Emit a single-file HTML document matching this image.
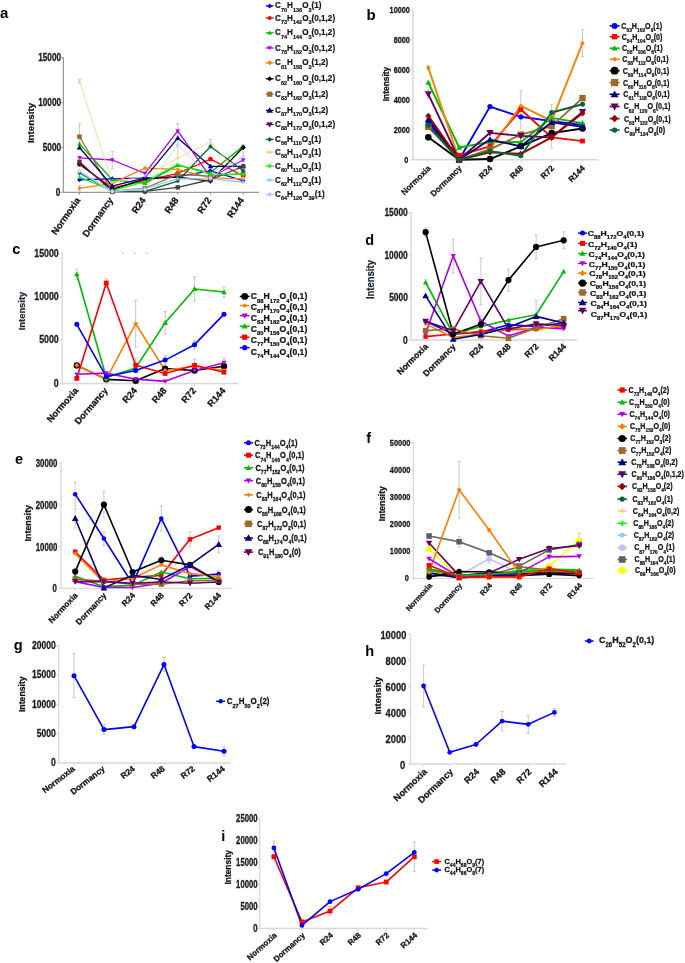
<!DOCTYPE html>
<html><head><meta charset="utf-8"><title>Figure</title>
<style>html,body{margin:0;padding:0;background:#fff;} svg{display:block;filter:blur(0.35px);} text{font-family:"Liberation Sans",Arial,sans-serif;}</style>
</head><body>
<svg width="685" height="963" viewBox="0 0 685 963">
<rect width="685" height="963" fill="#fff"/>
<text transform="translate(0.00,18.00)" font-size="15.00" font-weight="bold" fill="#000">a</text>
<path d="M63.30 57.30V192.30H259.00" fill="none" stroke="#808080" stroke-width="1.0"/>
<path d="M60.80 192.30H63.30" stroke="#808080" stroke-width="0.80"/>
<text transform="translate(60.20,195.97) scale(1.000,1.380)" font-size="8.20" font-weight="bold" fill="#1a1a1a" text-anchor="end" stroke="#1a1a1a" stroke-width="0.25" stroke-linejoin="round">0</text>
<path d="M60.80 147.47H63.30" stroke="#808080" stroke-width="0.80"/>
<text transform="translate(61.00,151.14) scale(1.000,1.380)" font-size="8.20" font-weight="bold" fill="#1a1a1a" text-anchor="end" stroke="#1a1a1a" stroke-width="0.25" stroke-linejoin="round">5000</text>
<path d="M60.80 102.63H63.30" stroke="#808080" stroke-width="0.80"/>
<text transform="translate(61.00,106.31) scale(1.000,1.380)" font-size="8.20" font-weight="bold" fill="#1a1a1a" text-anchor="end" stroke="#1a1a1a" stroke-width="0.25" stroke-linejoin="round">10000</text>
<path d="M60.80 57.80H63.30" stroke="#808080" stroke-width="0.80"/>
<text transform="translate(61.00,61.47) scale(1.000,1.380)" font-size="8.20" font-weight="bold" fill="#1a1a1a" text-anchor="end" stroke="#1a1a1a" stroke-width="0.25" stroke-linejoin="round">15000</text>
<path d="M79.50 192.30V194.80" stroke="#808080" stroke-width="0.80"/>
<text transform="translate(80.80,200.10) rotate(-55)" font-size="9.40" font-weight="bold" fill="#111" text-anchor="end" stroke="#111" stroke-width="0.25" stroke-linejoin="round">Normoxia</text>
<path d="M112.24 192.30V194.80" stroke="#808080" stroke-width="0.80"/>
<text transform="translate(113.54,200.10) rotate(-55)" font-size="9.40" font-weight="bold" fill="#111" text-anchor="end" stroke="#111" stroke-width="0.25" stroke-linejoin="round">Dormancy</text>
<path d="M144.98 192.30V194.80" stroke="#808080" stroke-width="0.80"/>
<text transform="translate(146.28,200.10) rotate(-55)" font-size="9.40" font-weight="bold" fill="#111" text-anchor="end" stroke="#111" stroke-width="0.25" stroke-linejoin="round">R24</text>
<path d="M177.72 192.30V194.80" stroke="#808080" stroke-width="0.80"/>
<text transform="translate(179.02,200.10) rotate(-55)" font-size="9.40" font-weight="bold" fill="#111" text-anchor="end" stroke="#111" stroke-width="0.25" stroke-linejoin="round">R48</text>
<path d="M210.46 192.30V194.80" stroke="#808080" stroke-width="0.80"/>
<text transform="translate(211.76,200.10) rotate(-55)" font-size="9.40" font-weight="bold" fill="#111" text-anchor="end" stroke="#111" stroke-width="0.25" stroke-linejoin="round">R72</text>
<path d="M243.20 192.30V194.80" stroke="#808080" stroke-width="0.80"/>
<text transform="translate(244.50,200.10) rotate(-55)" font-size="9.40" font-weight="bold" fill="#111" text-anchor="end" stroke="#111" stroke-width="0.25" stroke-linejoin="round">R144</text>
<text transform="translate(33.80,123.00) scale(0.850,1.000) rotate(-90)" font-size="9.80" font-weight="bold" fill="#111" text-anchor="middle" stroke="#111" stroke-width="0.25" stroke-linejoin="round">Intensity</text>
<path d="M112.24 151.05V168.99M110.64 151.05H113.84M110.64 168.99H113.84" stroke="#bbbbbb" stroke-width="0.8" fill="none"/>
<path d="M177.72 123.71V138.05M176.12 123.71H179.32M176.12 138.05H179.32" stroke="#bbbbbb" stroke-width="0.8" fill="none"/>
<path d="M79.50 185.58V190.96M77.90 185.58H81.10M77.90 190.96H81.10" stroke="#bbbbbb" stroke-width="0.8" fill="none"/>
<path d="M144.98 166.30V169.88M143.38 166.30H146.58M143.38 169.88H146.58" stroke="#bbbbbb" stroke-width="0.8" fill="none"/>
<path d="M79.50 124.15V149.26M77.90 124.15H81.10M77.90 149.26H81.10" stroke="#bbbbbb" stroke-width="0.8" fill="none"/>
<path d="M79.50 79.32V82.91M77.90 79.32H81.10M77.90 82.91H81.10" stroke="#bbbbbb" stroke-width="0.8" fill="none"/>
<path d="M210.46 139.40V144.78M208.86 139.40H212.06M208.86 144.78H212.06" stroke="#bbbbbb" stroke-width="0.8" fill="none"/>
<path d="M177.72 131.33V158.23M176.12 131.33H179.32M176.12 158.23H179.32" stroke="#bbbbbb" stroke-width="0.8" fill="none"/>
<path d="M243.20 151.95V160.92M241.60 151.95H244.80M241.60 160.92H244.80" stroke="#bbbbbb" stroke-width="0.8" fill="none"/>
<polyline points="79.50,179.75 112.24,178.85 144.98,177.95 177.72,176.61 210.46,170.78 243.20,180.64" fill="none" stroke="#0000ff" stroke-width="1.3" stroke-linejoin="round"/>
<polyline points="79.50,164.50 112.24,187.82 144.98,180.64 177.72,173.47 210.46,159.12 243.20,175.71" fill="none" stroke="#ff0000" stroke-width="1.3" stroke-linejoin="round"/>
<polyline points="79.50,143.88 112.24,179.75 144.98,183.33 177.72,165.40 210.46,172.57 243.20,146.12" fill="none" stroke="#00bb00" stroke-width="1.3" stroke-linejoin="round"/>
<polyline points="79.50,157.78 112.24,160.02 144.98,173.47 177.72,130.88 210.46,177.06 243.20,160.02" fill="none" stroke="#b000f0" stroke-width="1.3" stroke-linejoin="round"/>
<polyline points="79.50,188.27 112.24,183.33 144.98,168.09 177.72,169.44 210.46,177.95 243.20,178.85" fill="none" stroke="#ff8000" stroke-width="1.3" stroke-linejoin="round"/>
<polyline points="79.50,163.61 112.24,189.61 144.98,178.85 177.72,177.06 210.46,181.09 243.20,147.47" fill="none" stroke="#000000" stroke-width="1.3" stroke-linejoin="round"/>
<polyline points="79.50,136.71 112.24,191.40 144.98,188.27 177.72,174.37 210.46,176.16 243.20,173.47" fill="none" stroke="#9b6a2a" stroke-width="1.3" stroke-linejoin="round"/>
<polyline points="79.50,147.47 112.24,186.02 144.98,177.95 177.72,138.05 210.46,166.30 243.20,166.30" fill="none" stroke="#000080" stroke-width="1.3" stroke-linejoin="round"/>
<polyline points="79.50,161.81 112.24,191.40 144.98,191.40 177.72,187.37 210.46,179.75 243.20,166.30" fill="none" stroke="#4a3a4a" stroke-width="1.3" stroke-linejoin="round"/>
<polyline points="79.50,173.02 112.24,191.40 144.98,191.40 177.72,181.09 210.46,146.57 243.20,170.78" fill="none" stroke="#006633" stroke-width="1.3" stroke-linejoin="round"/>
<polyline points="79.50,81.11 112.24,182.44 144.98,176.16 177.72,158.23 210.46,142.09 243.20,177.95" fill="none" stroke="#ffc896" stroke-width="0.8" stroke-linejoin="round"/>
<polyline points="79.50,177.06 112.24,190.51 144.98,181.54 177.72,164.50 210.46,174.37 243.20,174.37" fill="none" stroke="#00ff00" stroke-width="1.3" stroke-linejoin="round"/>
<polyline points="79.50,171.68 112.24,191.40 144.98,188.71 177.72,178.85 210.46,178.85 243.20,181.99" fill="none" stroke="#90c8ff" stroke-width="1.3" stroke-linejoin="round"/>
<polyline points="79.50,170.78 112.24,191.40 144.98,189.61 177.72,144.78 210.46,177.95 243.20,156.43" fill="none" stroke="#d0d0f6" stroke-width="0.9" stroke-linejoin="round"/>
<polygon points="79.50,177.25 82.00,179.75 79.50,182.25 77.00,179.75" fill="#0000ff"/>
<polygon points="112.24,176.35 114.74,178.85 112.24,181.35 109.74,178.85" fill="#0000ff"/>
<polygon points="144.98,175.45 147.48,177.95 144.98,180.45 142.48,177.95" fill="#0000ff"/>
<polygon points="177.72,174.11 180.22,176.61 177.72,179.11 175.22,176.61" fill="#0000ff"/>
<polygon points="210.46,168.28 212.96,170.78 210.46,173.28 207.96,170.78" fill="#0000ff"/>
<polygon points="243.20,178.14 245.70,180.64 243.20,183.14 240.70,180.64" fill="#0000ff"/>
<circle cx="79.50" cy="164.50" r="2.40" fill="#ff0000"/>
<circle cx="112.24" cy="187.82" r="2.40" fill="#ff0000"/>
<circle cx="144.98" cy="180.64" r="2.40" fill="#ff0000"/>
<circle cx="177.72" cy="173.47" r="2.40" fill="#ff0000"/>
<circle cx="210.46" cy="159.12" r="2.40" fill="#ff0000"/>
<circle cx="243.20" cy="175.71" r="2.40" fill="#ff0000"/>
<polygon points="79.50,141.58 81.80,145.60 77.20,145.60" fill="#00bb00"/>
<polygon points="112.24,177.45 114.54,181.47 109.94,181.47" fill="#00bb00"/>
<polygon points="144.98,181.03 147.28,185.06 142.68,185.06" fill="#00bb00"/>
<polygon points="177.72,163.10 180.02,167.12 175.42,167.12" fill="#00bb00"/>
<polygon points="210.46,170.27 212.76,174.30 208.16,174.30" fill="#00bb00"/>
<polygon points="243.20,143.82 245.50,147.85 240.90,147.85" fill="#00bb00"/>
<polygon points="79.50,160.08 81.80,156.05 77.20,156.05" fill="#b000f0"/>
<polygon points="112.24,162.32 114.54,158.30 109.94,158.30" fill="#b000f0"/>
<polygon points="144.98,175.77 147.28,171.75 142.68,171.75" fill="#b000f0"/>
<polygon points="177.72,133.18 180.02,129.15 175.42,129.15" fill="#b000f0"/>
<polygon points="210.46,179.36 212.76,175.33 208.16,175.33" fill="#b000f0"/>
<polygon points="243.20,162.32 245.50,158.30 240.90,158.30" fill="#b000f0"/>
<polygon points="79.50,186.27 81.50,188.27 79.50,190.27 77.50,188.27" fill="#ff8000"/>
<polygon points="112.24,181.33 114.24,183.33 112.24,185.33 110.24,183.33" fill="#ff8000"/>
<polygon points="144.98,166.09 146.98,168.09 144.98,170.09 142.98,168.09" fill="#ff8000"/>
<polygon points="177.72,167.44 179.72,169.44 177.72,171.44 175.72,169.44" fill="#ff8000"/>
<polygon points="210.46,175.95 212.46,177.95 210.46,179.95 208.46,177.95" fill="#ff8000"/>
<polygon points="243.20,176.85 245.20,178.85 243.20,180.85 241.20,178.85" fill="#ff8000"/>
<polygon points="79.50,160.86 82.25,163.61 79.50,166.36 76.75,163.61" fill="#000000"/>
<polygon points="112.24,186.86 114.99,189.61 112.24,192.36 109.49,189.61" fill="#000000"/>
<polygon points="144.98,176.10 147.73,178.85 144.98,181.60 142.23,178.85" fill="#000000"/>
<polygon points="177.72,174.31 180.47,177.06 177.72,179.81 174.97,177.06" fill="#000000"/>
<polygon points="210.46,178.34 213.21,181.09 210.46,183.84 207.71,181.09" fill="#000000"/>
<polygon points="243.20,144.72 245.95,147.47 243.20,150.22 240.45,147.47" fill="#000000"/>
<rect x="77.20" y="134.41" width="4.60" height="4.60" fill="#9b6a2a"/>
<rect x="109.94" y="189.10" width="4.60" height="4.60" fill="#9b6a2a"/>
<rect x="142.68" y="185.97" width="4.60" height="4.60" fill="#9b6a2a"/>
<rect x="175.42" y="172.07" width="4.60" height="4.60" fill="#9b6a2a"/>
<rect x="208.16" y="173.86" width="4.60" height="4.60" fill="#9b6a2a"/>
<rect x="240.90" y="171.17" width="4.60" height="4.60" fill="#9b6a2a"/>
<polygon points="79.50,144.71 82.26,149.54 76.74,149.54" fill="#000080"/>
<polygon points="112.24,183.26 115.00,188.09 109.48,188.09" fill="#000080"/>
<polygon points="144.98,175.19 147.74,180.02 142.22,180.02" fill="#000080"/>
<polygon points="177.72,135.29 180.48,140.12 174.96,140.12" fill="#000080"/>
<polygon points="210.46,163.54 213.22,168.37 207.70,168.37" fill="#000080"/>
<polygon points="243.20,163.54 245.96,168.37 240.44,168.37" fill="#000080"/>
<rect x="77.30" y="159.61" width="4.40" height="4.40" fill="#4a3a4a"/>
<rect x="110.04" y="189.20" width="4.40" height="4.40" fill="#4a3a4a"/>
<rect x="142.78" y="189.20" width="4.40" height="4.40" fill="#4a3a4a"/>
<rect x="175.52" y="185.17" width="4.40" height="4.40" fill="#4a3a4a"/>
<rect x="208.26" y="177.55" width="4.40" height="4.40" fill="#4a3a4a"/>
<rect x="241.00" y="164.10" width="4.40" height="4.40" fill="#4a3a4a"/>
<polygon points="79.50,170.77 81.75,173.02 79.50,175.27 77.25,173.02" fill="#006633"/>
<polygon points="112.24,189.15 114.49,191.40 112.24,193.65 109.99,191.40" fill="#006633"/>
<polygon points="144.98,189.15 147.23,191.40 144.98,193.65 142.73,191.40" fill="#006633"/>
<polygon points="177.72,178.84 179.97,181.09 177.72,183.34 175.47,181.09" fill="#006633"/>
<polygon points="210.46,144.32 212.71,146.57 210.46,148.82 208.21,146.57" fill="#006633"/>
<polygon points="243.20,168.53 245.45,170.78 243.20,173.03 240.95,170.78" fill="#006633"/>
<path d="M78.20 81.11H80.80M79.50 79.81V82.41" stroke="#ffc896" stroke-width="1.00"/>
<path d="M110.94 182.44H113.54M112.24 181.14V183.74" stroke="#ffc896" stroke-width="1.00"/>
<path d="M143.68 176.16H146.28M144.98 174.86V177.46" stroke="#ffc896" stroke-width="1.00"/>
<path d="M176.42 158.23H179.02M177.72 156.93V159.53" stroke="#ffc896" stroke-width="1.00"/>
<path d="M209.16 142.09H211.76M210.46 140.79V143.39" stroke="#ffc896" stroke-width="1.00"/>
<path d="M241.90 177.95H244.50M243.20 176.65V179.25" stroke="#ffc896" stroke-width="1.00"/>
<path d="M77.70 177.06H81.30M79.50 175.26V178.86" stroke="#00ff00" stroke-width="1.08"/>
<path d="M110.44 190.51H114.04M112.24 188.71V192.31" stroke="#00ff00" stroke-width="1.08"/>
<path d="M143.18 181.54H146.78M144.98 179.74V183.34" stroke="#00ff00" stroke-width="1.08"/>
<path d="M175.92 164.50H179.52M177.72 162.70V166.30" stroke="#00ff00" stroke-width="1.08"/>
<path d="M208.66 174.37H212.26M210.46 172.57V176.17" stroke="#00ff00" stroke-width="1.08"/>
<path d="M241.40 174.37H245.00M243.20 172.57V176.17" stroke="#00ff00" stroke-width="1.08"/>
<path d="M77.70 171.68H81.30M79.50 169.88V173.48M78.15 170.33L80.85 173.03M78.15 173.03L80.85 170.33" stroke="#90c8ff" stroke-width="0.90"/>
<path d="M110.44 191.40H114.04M112.24 189.60V193.20M110.89 190.05L113.59 192.75M110.89 192.75L113.59 190.05" stroke="#90c8ff" stroke-width="0.90"/>
<path d="M143.18 188.71H146.78M144.98 186.91V190.51M143.63 187.36L146.33 190.06M143.63 190.06L146.33 187.36" stroke="#90c8ff" stroke-width="0.90"/>
<path d="M175.92 178.85H179.52M177.72 177.05V180.65M176.37 177.50L179.07 180.20M176.37 180.20L179.07 177.50" stroke="#90c8ff" stroke-width="0.90"/>
<path d="M208.66 178.85H212.26M210.46 177.05V180.65M209.11 177.50L211.81 180.20M209.11 180.20L211.81 177.50" stroke="#90c8ff" stroke-width="0.90"/>
<path d="M241.40 181.99H245.00M243.20 180.19V183.79M241.85 180.64L244.55 183.34M241.85 183.34L244.55 180.64" stroke="#90c8ff" stroke-width="0.90"/>
<polygon points="79.50,168.53 81.75,170.78 79.50,173.03 77.25,170.78" fill="#d0d0f6"/>
<polygon points="112.24,189.15 114.49,191.40 112.24,193.65 109.99,191.40" fill="#d0d0f6"/>
<polygon points="144.98,187.36 147.23,189.61 144.98,191.86 142.73,189.61" fill="#d0d0f6"/>
<polygon points="177.72,142.53 179.97,144.78 177.72,147.03 175.47,144.78" fill="#d0d0f6"/>
<polygon points="210.46,175.70 212.71,177.95 210.46,180.20 208.21,177.95" fill="#d0d0f6"/>
<polygon points="243.20,154.18 245.45,156.43 243.20,158.68 240.95,156.43" fill="#d0d0f6"/>
<path d="M265.80 5.90H273.60" stroke="#0000ff" stroke-width="1.3"/>
<polygon points="269.70,3.40 272.20,5.90 269.70,8.40 267.20,5.90" fill="#0000ff"/>
<text transform="translate(275.00,8.40) scale(0.948,1.000)" font-size="8.60" font-weight="bold" fill="#111" stroke="#111" stroke-width="0.2" stroke-linejoin="round"><tspan>C</tspan><tspan font-size="5.85" dy="3.27">70</tspan><tspan dy="-3.27">H</tspan><tspan font-size="5.85" dy="3.27">136</tspan><tspan dy="-3.27">O</tspan><tspan font-size="5.85" dy="3.27">3</tspan><tspan dy="-3.27">(1)</tspan></text>
<path d="M265.80 18.00H273.60" stroke="#ff0000" stroke-width="1.3"/>
<circle cx="269.70" cy="18.00" r="2.00" fill="#ff0000"/>
<text transform="translate(275.00,20.50) scale(0.948,1.000)" font-size="8.60" font-weight="bold" fill="#111" stroke="#111" stroke-width="0.2" stroke-linejoin="round"><tspan>C</tspan><tspan font-size="5.85" dy="3.27">73</tspan><tspan dy="-3.27">H</tspan><tspan font-size="5.85" dy="3.27">142</tspan><tspan dy="-3.27">O</tspan><tspan font-size="5.85" dy="3.27">3</tspan><tspan dy="-3.27">(0,1,2)</tspan></text>
<path d="M265.80 32.80H273.60" stroke="#00bb00" stroke-width="1.3"/>
<polygon points="269.70,30.50 272.00,34.52 267.40,34.52" fill="#00bb00"/>
<text transform="translate(275.00,35.30) scale(0.948,1.000)" font-size="8.60" font-weight="bold" fill="#111" stroke="#111" stroke-width="0.2" stroke-linejoin="round"><tspan>C</tspan><tspan font-size="5.85" dy="3.27">74</tspan><tspan dy="-3.27">H</tspan><tspan font-size="5.85" dy="3.27">144</tspan><tspan dy="-3.27">O</tspan><tspan font-size="5.85" dy="3.27">3</tspan><tspan dy="-3.27">(0,1,2)</tspan></text>
<path d="M265.80 48.00H273.60" stroke="#b000f0" stroke-width="1.3"/>
<polygon points="269.70,50.30 272.00,46.27 267.40,46.27" fill="#b000f0"/>
<text transform="translate(275.00,50.50) scale(0.948,1.000)" font-size="8.60" font-weight="bold" fill="#111" stroke="#111" stroke-width="0.2" stroke-linejoin="round"><tspan>C</tspan><tspan font-size="5.85" dy="3.27">78</tspan><tspan dy="-3.27">H</tspan><tspan font-size="5.85" dy="3.27">152</tspan><tspan dy="-3.27">O</tspan><tspan font-size="5.85" dy="3.27">3</tspan><tspan dy="-3.27">(0,1,2)</tspan></text>
<path d="M265.80 62.80H273.60" stroke="#ff8000" stroke-width="1.3"/>
<polygon points="269.70,60.30 272.20,62.80 269.70,65.30 267.20,62.80" fill="#ff8000"/>
<text transform="translate(275.00,65.30) scale(0.948,1.000)" font-size="8.60" font-weight="bold" fill="#111" stroke="#111" stroke-width="0.2" stroke-linejoin="round"><tspan>C</tspan><tspan font-size="5.85" dy="3.27">81</tspan><tspan dy="-3.27">H</tspan><tspan font-size="5.85" dy="3.27">158</tspan><tspan dy="-3.27">O</tspan><tspan font-size="5.85" dy="3.27">3</tspan><tspan dy="-3.27">(1,2)</tspan></text>
<path d="M265.80 78.80H273.60" stroke="#000000" stroke-width="1.3"/>
<polygon points="269.70,76.30 272.20,78.80 269.70,81.30 267.20,78.80" fill="#000000"/>
<text transform="translate(275.00,81.30) scale(0.948,1.000)" font-size="8.60" font-weight="bold" fill="#111" stroke="#111" stroke-width="0.2" stroke-linejoin="round"><tspan>C</tspan><tspan font-size="5.85" dy="3.27">82</tspan><tspan dy="-3.27">H</tspan><tspan font-size="5.85" dy="3.27">160</tspan><tspan dy="-3.27">O</tspan><tspan font-size="5.85" dy="3.27">3</tspan><tspan dy="-3.27">(0,1,2)</tspan></text>
<path d="M265.80 94.20H273.60" stroke="#9b6a2a" stroke-width="1.3"/>
<rect x="267.10" y="91.60" width="5.20" height="5.20" fill="#9b6a2a"/>
<text transform="translate(275.00,96.70) scale(0.948,1.000)" font-size="8.60" font-weight="bold" fill="#111" stroke="#111" stroke-width="0.2" stroke-linejoin="round"><tspan>C</tspan><tspan font-size="5.85" dy="3.27">83</tspan><tspan dy="-3.27">H</tspan><tspan font-size="5.85" dy="3.27">162</tspan><tspan dy="-3.27">O</tspan><tspan font-size="5.85" dy="3.27">3</tspan><tspan dy="-3.27">(1,2)</tspan></text>
<path d="M265.80 110.40H273.60" stroke="#000080" stroke-width="1.3"/>
<polygon points="269.70,107.18 272.92,112.82 266.48,112.82" fill="#000080"/>
<text transform="translate(275.00,112.90) scale(0.948,1.000)" font-size="8.60" font-weight="bold" fill="#111" stroke="#111" stroke-width="0.2" stroke-linejoin="round"><tspan>C</tspan><tspan font-size="5.85" dy="3.27">87</tspan><tspan dy="-3.27">H</tspan><tspan font-size="5.85" dy="3.27">170</tspan><tspan dy="-3.27">O</tspan><tspan font-size="5.85" dy="3.27">3</tspan><tspan dy="-3.27">(1,2)</tspan></text>
<path d="M265.80 124.50H273.60" stroke="#600060" stroke-width="1.3"/>
<polygon points="269.70,127.61 272.81,122.17 266.59,122.17" fill="#600060"/>
<text transform="translate(275.00,127.00) scale(0.948,1.000)" font-size="8.60" font-weight="bold" fill="#111" stroke="#111" stroke-width="0.2" stroke-linejoin="round"><tspan>C</tspan><tspan font-size="5.85" dy="3.27">88</tspan><tspan dy="-3.27">H</tspan><tspan font-size="5.85" dy="3.27">172</tspan><tspan dy="-3.27">O</tspan><tspan font-size="5.85" dy="3.27">3</tspan><tspan dy="-3.27">(0,1,2)</tspan></text>
<path d="M265.80 139.40H273.60" stroke="#006633" stroke-width="1.3"/>
<polygon points="269.70,136.90 272.20,139.40 269.70,141.90 267.20,139.40" fill="#006633"/>
<text transform="translate(275.00,141.90) scale(0.948,1.000)" font-size="8.60" font-weight="bold" fill="#111" stroke="#111" stroke-width="0.2" stroke-linejoin="round"><tspan>C</tspan><tspan font-size="5.85" dy="3.27">56</tspan><tspan dy="-3.27">H</tspan><tspan font-size="5.85" dy="3.27">110</tspan><tspan dy="-3.27">O</tspan><tspan font-size="5.85" dy="3.27">3</tspan><tspan dy="-3.27">(1)</tspan></text>
<path d="M265.80 152.20H273.60" stroke="#ffc896" stroke-width="1.3"/>
<path d="M267.70 152.20H271.70M269.70 150.20V154.20" stroke="#ffc896" stroke-width="1.20"/>
<text transform="translate(275.00,154.70) scale(0.948,1.000)" font-size="8.60" font-weight="bold" fill="#111" stroke="#111" stroke-width="0.2" stroke-linejoin="round"><tspan>C</tspan><tspan font-size="5.85" dy="3.27">58</tspan><tspan dy="-3.27">H</tspan><tspan font-size="5.85" dy="3.27">114</tspan><tspan dy="-3.27">O</tspan><tspan font-size="5.85" dy="3.27">3</tspan><tspan dy="-3.27">(1)</tspan></text>
<path d="M265.80 166.10H273.60" stroke="#00ff00" stroke-width="1.3"/>
<path d="M267.70 166.10H271.70M269.70 164.10V168.10" stroke="#00ff00" stroke-width="1.20"/>
<text transform="translate(275.00,168.60) scale(0.948,1.000)" font-size="8.60" font-weight="bold" fill="#111" stroke="#111" stroke-width="0.2" stroke-linejoin="round"><tspan>C</tspan><tspan font-size="5.85" dy="3.27">60</tspan><tspan dy="-3.27">H</tspan><tspan font-size="5.85" dy="3.27">118</tspan><tspan dy="-3.27">O</tspan><tspan font-size="5.85" dy="3.27">3</tspan><tspan dy="-3.27">(1)</tspan></text>
<path d="M265.80 180.10H273.60" stroke="#90c8ff" stroke-width="1.3"/>
<path d="M267.70 180.10H271.70M269.70 178.10V182.10M268.20 178.60L271.20 181.60M268.20 181.60L271.20 178.60" stroke="#90c8ff" stroke-width="0.90"/>
<text transform="translate(275.00,182.60) scale(0.948,1.000)" font-size="8.60" font-weight="bold" fill="#111" stroke="#111" stroke-width="0.2" stroke-linejoin="round"><tspan>C</tspan><tspan font-size="5.85" dy="3.27">62</tspan><tspan dy="-3.27">H</tspan><tspan font-size="5.85" dy="3.27">112</tspan><tspan dy="-3.27">O</tspan><tspan font-size="5.85" dy="3.27">3</tspan><tspan dy="-3.27">(1)</tspan></text>
<path d="M265.80 194.40H273.60" stroke="#c0c0ff" stroke-width="1.3"/>
<polygon points="269.70,191.90 272.20,194.40 269.70,196.90 267.20,194.40" fill="#c0c0ff"/>
<text transform="translate(275.00,196.90) scale(0.948,1.000)" font-size="8.60" font-weight="bold" fill="#111" stroke="#111" stroke-width="0.2" stroke-linejoin="round"><tspan>C</tspan><tspan font-size="5.85" dy="3.27">64</tspan><tspan dy="-3.27">H</tspan><tspan font-size="5.85" dy="3.27">126</tspan><tspan dy="-3.27">O</tspan><tspan font-size="5.85" dy="3.27">39</tspan><tspan dy="-3.27">(1)</tspan></text>
<text transform="translate(366.50,20.00)" font-size="15.00" font-weight="bold" fill="#000">b</text>
<path d="M413.00 9.50V159.80H598.50" fill="none" stroke="#d8d8d8" stroke-width="1.4"/>
<path d="M410.50 159.80H413.00" stroke="#d8d8d8" stroke-width="1.12"/>
<text transform="translate(408.40,162.82) scale(1.000,1.300)" font-size="7.30" font-weight="bold" fill="#1a1a1a" text-anchor="end" stroke="#1a1a1a" stroke-width="0.25" stroke-linejoin="round">0</text>
<path d="M410.50 129.84H413.00" stroke="#d8d8d8" stroke-width="1.12"/>
<text transform="translate(409.90,132.86) scale(1.000,1.300)" font-size="7.30" font-weight="bold" fill="#1a1a1a" text-anchor="end" stroke="#1a1a1a" stroke-width="0.25" stroke-linejoin="round">2000</text>
<path d="M410.50 99.88H413.00" stroke="#d8d8d8" stroke-width="1.12"/>
<text transform="translate(409.90,102.90) scale(1.000,1.300)" font-size="7.30" font-weight="bold" fill="#1a1a1a" text-anchor="end" stroke="#1a1a1a" stroke-width="0.25" stroke-linejoin="round">4000</text>
<path d="M410.50 69.92H413.00" stroke="#d8d8d8" stroke-width="1.12"/>
<text transform="translate(409.90,72.94) scale(1.000,1.300)" font-size="7.30" font-weight="bold" fill="#1a1a1a" text-anchor="end" stroke="#1a1a1a" stroke-width="0.25" stroke-linejoin="round">6000</text>
<path d="M410.50 39.96H413.00" stroke="#d8d8d8" stroke-width="1.12"/>
<text transform="translate(409.90,42.98) scale(1.000,1.300)" font-size="7.30" font-weight="bold" fill="#1a1a1a" text-anchor="end" stroke="#1a1a1a" stroke-width="0.25" stroke-linejoin="round">8000</text>
<path d="M410.50 10.00H413.00" stroke="#d8d8d8" stroke-width="1.12"/>
<text transform="translate(409.90,13.02) scale(1.000,1.300)" font-size="7.30" font-weight="bold" fill="#1a1a1a" text-anchor="end" stroke="#1a1a1a" stroke-width="0.25" stroke-linejoin="round">10000</text>
<path d="M428.30 159.80V162.30" stroke="#d8d8d8" stroke-width="1.12"/>
<text transform="translate(431.30,168.80) rotate(-45)" font-size="8.20" font-weight="bold" fill="#111" text-anchor="end" stroke="#111" stroke-width="0.25" stroke-linejoin="round">Normoxia</text>
<path d="M459.14 159.80V162.30" stroke="#d8d8d8" stroke-width="1.12"/>
<text transform="translate(462.14,168.80) rotate(-45)" font-size="8.20" font-weight="bold" fill="#111" text-anchor="end" stroke="#111" stroke-width="0.25" stroke-linejoin="round">Dormancy</text>
<path d="M489.98 159.80V162.30" stroke="#d8d8d8" stroke-width="1.12"/>
<text transform="translate(492.98,168.80) rotate(-45)" font-size="8.20" font-weight="bold" fill="#111" text-anchor="end" stroke="#111" stroke-width="0.25" stroke-linejoin="round">R24</text>
<path d="M520.82 159.80V162.30" stroke="#d8d8d8" stroke-width="1.12"/>
<text transform="translate(523.82,168.80) rotate(-45)" font-size="8.20" font-weight="bold" fill="#111" text-anchor="end" stroke="#111" stroke-width="0.25" stroke-linejoin="round">R48</text>
<path d="M551.66 159.80V162.30" stroke="#d8d8d8" stroke-width="1.12"/>
<text transform="translate(554.66,168.80) rotate(-45)" font-size="8.20" font-weight="bold" fill="#111" text-anchor="end" stroke="#111" stroke-width="0.25" stroke-linejoin="round">R72</text>
<path d="M582.50 159.80V162.30" stroke="#d8d8d8" stroke-width="1.12"/>
<text transform="translate(585.50,168.80) rotate(-45)" font-size="8.20" font-weight="bold" fill="#111" text-anchor="end" stroke="#111" stroke-width="0.25" stroke-linejoin="round">R144</text>
<text transform="translate(389.00,84.00) rotate(-90)" font-size="8.40" font-weight="bold" fill="#111" text-anchor="middle" stroke="#111" stroke-width="0.25" stroke-linejoin="round">Intensity</text>
<path d="M520.82 90.74V128.19M519.22 90.74H522.42M519.22 128.19H522.42" stroke="#bbbbbb" stroke-width="0.8" fill="none"/>
<path d="M428.30 65.43V69.92M426.70 65.43H429.90M426.70 69.92H429.90" stroke="#bbbbbb" stroke-width="0.8" fill="none"/>
<path d="M582.50 29.62V56.59M580.90 29.62H584.10M580.90 56.59H584.10" stroke="#bbbbbb" stroke-width="0.8" fill="none"/>
<path d="M551.66 104.37V147.82M550.06 104.37H553.26M550.06 147.82H553.26" stroke="#bbbbbb" stroke-width="0.8" fill="none"/>
<path d="M428.30 89.54V98.53M426.70 89.54H429.90M426.70 98.53H429.90" stroke="#bbbbbb" stroke-width="0.8" fill="none"/>
<polyline points="428.30,122.35 459.14,159.80 489.98,106.62 520.82,116.81 551.66,121.15 582.50,125.05" fill="none" stroke="#0000ff" stroke-width="1.9" stroke-linejoin="round"/>
<polyline points="428.30,126.99 459.14,155.31 489.98,146.32 520.82,109.47 551.66,137.33 582.50,141.08" fill="none" stroke="#ff0000" stroke-width="1.9" stroke-linejoin="round"/>
<polyline points="428.30,82.50 459.14,147.52 489.98,141.82 520.82,142.27 551.66,117.86 582.50,123.10" fill="none" stroke="#00bb00" stroke-width="1.9" stroke-linejoin="round"/>
<polyline points="428.30,67.67 459.14,159.80 489.98,149.31 520.82,105.87 551.66,120.85 582.50,43.11" fill="none" stroke="#ff8000" stroke-width="1.9" stroke-linejoin="round"/>
<polyline points="428.30,137.33 459.14,159.80 489.98,159.05 520.82,146.32 551.66,133.14 582.50,128.49" fill="none" stroke="#000000" stroke-width="1.9" stroke-linejoin="round"/>
<polyline points="428.30,126.84 459.14,159.80 489.98,149.31 520.82,134.63 551.66,126.10 582.50,98.08" fill="none" stroke="#9b6a2a" stroke-width="1.9" stroke-linejoin="round"/>
<polyline points="428.30,119.35 459.14,159.80 489.98,139.58 520.82,146.32 551.66,122.35 582.50,126.84" fill="none" stroke="#000080" stroke-width="1.9" stroke-linejoin="round"/>
<polyline points="428.30,94.04 459.14,159.80 489.98,132.84 520.82,135.83 551.66,137.33 582.50,111.86" fill="none" stroke="#600060" stroke-width="1.9" stroke-linejoin="round"/>
<polyline points="428.30,115.91 459.14,159.80 489.98,152.31 520.82,153.81 551.66,137.33 582.50,113.36" fill="none" stroke="#990000" stroke-width="1.9" stroke-linejoin="round"/>
<polyline points="428.30,125.35 459.14,159.80 489.98,151.11 520.82,155.76 551.66,112.46 582.50,104.22" fill="none" stroke="#006633" stroke-width="1.9" stroke-linejoin="round"/>
<circle cx="428.30" cy="122.35" r="2.60" fill="#0000ff"/>
<circle cx="459.14" cy="159.80" r="2.60" fill="#0000ff"/>
<circle cx="489.98" cy="106.62" r="2.60" fill="#0000ff"/>
<circle cx="520.82" cy="116.81" r="2.60" fill="#0000ff"/>
<circle cx="551.66" cy="121.15" r="2.60" fill="#0000ff"/>
<circle cx="582.50" cy="125.05" r="2.60" fill="#0000ff"/>
<rect x="425.90" y="124.59" width="4.80" height="4.80" fill="#ff0000"/>
<rect x="456.74" y="152.91" width="4.80" height="4.80" fill="#ff0000"/>
<rect x="487.58" y="143.92" width="4.80" height="4.80" fill="#ff0000"/>
<rect x="518.42" y="107.07" width="4.80" height="4.80" fill="#ff0000"/>
<rect x="549.26" y="134.93" width="4.80" height="4.80" fill="#ff0000"/>
<rect x="580.10" y="138.68" width="4.80" height="4.80" fill="#ff0000"/>
<polygon points="428.30,79.51 431.29,84.75 425.31,84.75" fill="#00bb00"/>
<polygon points="459.14,144.53 462.13,149.76 456.15,149.76" fill="#00bb00"/>
<polygon points="489.98,138.83 492.97,144.07 486.99,144.07" fill="#00bb00"/>
<polygon points="520.82,139.28 523.81,144.52 517.83,144.52" fill="#00bb00"/>
<polygon points="551.66,114.87 554.65,120.10 548.67,120.10" fill="#00bb00"/>
<polygon points="582.50,120.11 585.49,125.34 579.51,125.34" fill="#00bb00"/>
<polygon points="428.30,65.30 430.68,67.67 428.30,70.05 425.93,67.67" fill="#ff8000"/>
<polygon points="459.14,157.43 461.51,159.80 459.14,162.18 456.76,159.80" fill="#ff8000"/>
<polygon points="489.98,146.94 492.36,149.31 489.98,151.69 487.61,149.31" fill="#ff8000"/>
<polygon points="520.82,103.50 523.20,105.87 520.82,108.25 518.45,105.87" fill="#ff8000"/>
<polygon points="551.66,118.48 554.03,120.85 551.66,123.23 549.28,120.85" fill="#ff8000"/>
<polygon points="582.50,40.73 584.88,43.11 582.50,45.48 580.12,43.11" fill="#ff8000"/>
<circle cx="428.30" cy="137.33" r="3.30" fill="#000000"/>
<circle cx="459.14" cy="159.80" r="3.30" fill="#000000"/>
<circle cx="489.98" cy="159.05" r="3.30" fill="#000000"/>
<circle cx="520.82" cy="146.32" r="3.30" fill="#000000"/>
<circle cx="551.66" cy="133.14" r="3.30" fill="#000000"/>
<circle cx="582.50" cy="128.49" r="3.30" fill="#000000"/>
<rect x="425.10" y="123.64" width="6.40" height="6.40" fill="#9b6a2a"/>
<rect x="455.94" y="156.60" width="6.40" height="6.40" fill="#9b6a2a"/>
<rect x="486.78" y="146.11" width="6.40" height="6.40" fill="#9b6a2a"/>
<rect x="517.62" y="131.43" width="6.40" height="6.40" fill="#9b6a2a"/>
<rect x="548.46" y="122.90" width="6.40" height="6.40" fill="#9b6a2a"/>
<rect x="579.30" y="94.88" width="6.40" height="6.40" fill="#9b6a2a"/>
<polygon points="428.30,115.90 431.75,121.94 424.85,121.94" fill="#000080"/>
<polygon points="459.14,156.35 462.59,162.39 455.69,162.39" fill="#000080"/>
<polygon points="489.98,136.13 493.43,142.16 486.53,142.16" fill="#000080"/>
<polygon points="520.82,142.87 524.27,148.91 517.37,148.91" fill="#000080"/>
<polygon points="551.66,118.90 555.11,124.94 548.21,124.94" fill="#000080"/>
<polygon points="582.50,123.39 585.95,129.43 579.05,129.43" fill="#000080"/>
<polygon points="428.30,97.72 431.98,91.28 424.62,91.28" fill="#600060"/>
<polygon points="459.14,163.48 462.82,157.04 455.46,157.04" fill="#600060"/>
<polygon points="489.98,136.52 493.66,130.08 486.30,130.08" fill="#600060"/>
<polygon points="520.82,139.51 524.50,133.07 517.14,133.07" fill="#600060"/>
<polygon points="551.66,141.01 555.34,134.57 547.98,134.57" fill="#600060"/>
<polygon points="582.50,115.54 586.18,109.10 578.82,109.10" fill="#600060"/>
<polygon points="428.30,112.78 431.43,115.91 428.30,119.03 425.18,115.91" fill="#990000"/>
<polygon points="459.14,156.68 462.26,159.80 459.14,162.93 456.01,159.80" fill="#990000"/>
<polygon points="489.98,149.19 493.11,152.31 489.98,155.44 486.86,152.31" fill="#990000"/>
<polygon points="520.82,150.68 523.95,153.81 520.82,156.93 517.70,153.81" fill="#990000"/>
<polygon points="551.66,134.21 554.78,137.33 551.66,140.46 548.53,137.33" fill="#990000"/>
<polygon points="582.50,110.24 585.62,113.36 582.50,116.49 579.38,113.36" fill="#990000"/>
<circle cx="428.30" cy="125.35" r="2.50" fill="#006633"/>
<circle cx="459.14" cy="159.80" r="2.50" fill="#006633"/>
<circle cx="489.98" cy="151.11" r="2.50" fill="#006633"/>
<circle cx="520.82" cy="155.76" r="2.50" fill="#006633"/>
<circle cx="551.66" cy="112.46" r="2.50" fill="#006633"/>
<circle cx="582.50" cy="104.22" r="2.50" fill="#006633"/>
<path d="M609.60 25.90H619.60" stroke="#0000ff" stroke-width="1.6"/>
<circle cx="614.60" cy="25.90" r="3.00" fill="#0000ff"/>
<text transform="translate(621.30,28.80) scale(0.830,1.000)" font-size="8.60" font-weight="bold" fill="#111" stroke="#111" stroke-width="0.25" stroke-linejoin="round"><tspan>C</tspan><tspan font-size="5.85" dy="3.27">53</tspan><tspan dy="-3.27">H</tspan><tspan font-size="5.85" dy="3.27">102</tspan><tspan dy="-3.27">O</tspan><tspan font-size="5.85" dy="3.27">6</tspan><tspan dy="-3.27">(1)</tspan></text>
<path d="M609.60 36.70H619.60" stroke="#ff0000" stroke-width="1.6"/>
<rect x="611.90" y="34.00" width="5.40" height="5.40" fill="#ff0000"/>
<text transform="translate(621.63,39.60) scale(0.830,1.000)" font-size="8.60" font-weight="bold" fill="#111" stroke="#111" stroke-width="0.25" stroke-linejoin="round"><tspan>C</tspan><tspan font-size="5.85" dy="3.27">54</tspan><tspan dy="-3.27">H</tspan><tspan font-size="5.85" dy="3.27">104</tspan><tspan dy="-3.27">O</tspan><tspan font-size="5.85" dy="3.27">6</tspan><tspan dy="-3.27">(0)</tspan></text>
<path d="M609.60 48.20H619.60" stroke="#00bb00" stroke-width="1.6"/>
<polygon points="614.60,45.21 617.59,50.44 611.61,50.44" fill="#00bb00"/>
<text transform="translate(621.97,51.10) scale(0.830,1.000)" font-size="8.60" font-weight="bold" fill="#111" stroke="#111" stroke-width="0.25" stroke-linejoin="round"><tspan>C</tspan><tspan font-size="5.85" dy="3.27">55</tspan><tspan dy="-3.27">H</tspan><tspan font-size="5.85" dy="3.27">106</tspan><tspan dy="-3.27">O</tspan><tspan font-size="5.85" dy="3.27">6</tspan><tspan dy="-3.27">(1)</tspan></text>
<path d="M609.60 59.30H619.60" stroke="#ff8000" stroke-width="1.6"/>
<polygon points="614.60,56.80 617.10,59.30 614.60,61.80 612.10,59.30" fill="#ff8000"/>
<text transform="translate(622.30,62.20) scale(0.830,1.000)" font-size="8.60" font-weight="bold" fill="#111" stroke="#111" stroke-width="0.25" stroke-linejoin="round"><tspan>C</tspan><tspan font-size="5.85" dy="3.27">58</tspan><tspan dy="-3.27">H</tspan><tspan font-size="5.85" dy="3.27">112</tspan><tspan dy="-3.27">O</tspan><tspan font-size="5.85" dy="3.27">6</tspan><tspan dy="-3.27">(0,1)</tspan></text>
<path d="M609.60 70.70H619.60" stroke="#000000" stroke-width="1.6"/>
<circle cx="614.60" cy="70.70" r="3.90" fill="#000000"/>
<text transform="translate(622.63,73.60) scale(0.830,1.000)" font-size="8.60" font-weight="bold" fill="#111" stroke="#111" stroke-width="0.25" stroke-linejoin="round"><tspan>C</tspan><tspan font-size="5.85" dy="3.27">59</tspan><tspan dy="-3.27">H</tspan><tspan font-size="5.85" dy="3.27">114</tspan><tspan dy="-3.27">O</tspan><tspan font-size="5.85" dy="3.27">6</tspan><tspan dy="-3.27">(0,1)</tspan></text>
<path d="M609.60 82.60H619.60" stroke="#9b6a2a" stroke-width="1.6"/>
<rect x="611.00" y="79.00" width="7.20" height="7.20" fill="#9b6a2a"/>
<text transform="translate(622.97,85.50) scale(0.830,1.000)" font-size="8.60" font-weight="bold" fill="#111" stroke="#111" stroke-width="0.25" stroke-linejoin="round"><tspan>C</tspan><tspan font-size="5.85" dy="3.27">60</tspan><tspan dy="-3.27">H</tspan><tspan font-size="5.85" dy="3.27">116</tspan><tspan dy="-3.27">O</tspan><tspan font-size="5.85" dy="3.27">6</tspan><tspan dy="-3.27">(0,1)</tspan></text>
<path d="M609.60 94.30H619.60" stroke="#000080" stroke-width="1.6"/>
<polygon points="614.60,90.39 618.51,97.23 610.69,97.23" fill="#000080"/>
<text transform="translate(623.30,97.20) scale(0.830,1.000)" font-size="8.60" font-weight="bold" fill="#111" stroke="#111" stroke-width="0.25" stroke-linejoin="round"><tspan>C</tspan><tspan font-size="5.85" dy="3.27">61</tspan><tspan dy="-3.27">H</tspan><tspan font-size="5.85" dy="3.27">118</tspan><tspan dy="-3.27">O</tspan><tspan font-size="5.85" dy="3.27">6</tspan><tspan dy="-3.27">(0,1)</tspan></text>
<path d="M609.60 106.50H619.60" stroke="#600060" stroke-width="1.6"/>
<polygon points="614.60,110.53 618.62,103.48 610.58,103.48" fill="#600060"/>
<text transform="translate(623.63,109.40) scale(0.830,1.000)" font-size="8.60" font-weight="bold" fill="#111" stroke="#111" stroke-width="0.25" stroke-linejoin="round"><tspan>C</tspan><tspan font-size="5.85" dy="3.27">62</tspan><tspan dy="-3.27">H</tspan><tspan font-size="5.85" dy="3.27">120</tspan><tspan dy="-3.27">O</tspan><tspan font-size="5.85" dy="3.27">6</tspan><tspan dy="-3.27">(0,1)</tspan></text>
<path d="M609.60 118.60H619.60" stroke="#990000" stroke-width="1.6"/>
<polygon points="614.60,114.85 618.35,118.60 614.60,122.35 610.85,118.60" fill="#990000"/>
<text transform="translate(623.97,121.50) scale(0.830,1.000)" font-size="8.60" font-weight="bold" fill="#111" stroke="#111" stroke-width="0.25" stroke-linejoin="round"><tspan>C</tspan><tspan font-size="5.85" dy="3.27">63</tspan><tspan dy="-3.27">H</tspan><tspan font-size="5.85" dy="3.27">122</tspan><tspan dy="-3.27">O</tspan><tspan font-size="5.85" dy="3.27">6</tspan><tspan dy="-3.27">(0,1)</tspan></text>
<path d="M609.60 130.10H619.60" stroke="#006633" stroke-width="1.6"/>
<circle cx="614.60" cy="130.10" r="2.70" fill="#006633"/>
<text transform="translate(624.30,133.00) scale(0.830,1.000)" font-size="8.60" font-weight="bold" fill="#111" stroke="#111" stroke-width="0.25" stroke-linejoin="round"><tspan>C</tspan><tspan font-size="5.85" dy="3.27">69</tspan><tspan dy="-3.27">H</tspan><tspan font-size="5.85" dy="3.27">134</tspan><tspan dy="-3.27">O</tspan><tspan font-size="5.85" dy="3.27">6</tspan><tspan dy="-3.27">(0)</tspan></text>
<text transform="translate(12.30,253.70)" font-size="14.60" font-weight="bold" fill="#000">c</text>
<path d="M62.20 253.00V383.50H238.50" fill="none" stroke="#d8d8d8" stroke-width="1.3"/>
<path d="M59.70 383.50H62.20" stroke="#d8d8d8" stroke-width="1.04"/>
<text transform="translate(58.70,386.72) scale(1.000,1.300)" font-size="8.80" font-weight="bold" fill="#1a1a1a" text-anchor="end" stroke="#1a1a1a" stroke-width="0.25" stroke-linejoin="round">0</text>
<path d="M59.70 340.17H62.20" stroke="#d8d8d8" stroke-width="1.04"/>
<text transform="translate(58.70,343.39) scale(1.000,1.300)" font-size="8.80" font-weight="bold" fill="#1a1a1a" text-anchor="end" stroke="#1a1a1a" stroke-width="0.25" stroke-linejoin="round">5000</text>
<path d="M59.70 296.83H62.20" stroke="#d8d8d8" stroke-width="1.04"/>
<text transform="translate(58.70,300.05) scale(1.000,1.300)" font-size="8.80" font-weight="bold" fill="#1a1a1a" text-anchor="end" stroke="#1a1a1a" stroke-width="0.25" stroke-linejoin="round">10000</text>
<path d="M59.70 253.50H62.20" stroke="#d8d8d8" stroke-width="1.04"/>
<text transform="translate(58.70,256.72) scale(1.000,1.300)" font-size="8.80" font-weight="bold" fill="#1a1a1a" text-anchor="end" stroke="#1a1a1a" stroke-width="0.25" stroke-linejoin="round">15000</text>
<path d="M76.80 383.50V386.00" stroke="#d8d8d8" stroke-width="1.04"/>
<text transform="translate(78.80,391.00) rotate(-49)" font-size="9.20" font-weight="bold" fill="#111" text-anchor="end" stroke="#111" stroke-width="0.25" stroke-linejoin="round">Normoxia</text>
<path d="M106.24 383.50V386.00" stroke="#d8d8d8" stroke-width="1.04"/>
<text transform="translate(108.24,391.00) rotate(-49)" font-size="9.20" font-weight="bold" fill="#111" text-anchor="end" stroke="#111" stroke-width="0.25" stroke-linejoin="round">Dormancy</text>
<path d="M135.68 383.50V386.00" stroke="#d8d8d8" stroke-width="1.04"/>
<text transform="translate(137.68,391.00) rotate(-49)" font-size="9.20" font-weight="bold" fill="#111" text-anchor="end" stroke="#111" stroke-width="0.25" stroke-linejoin="round">R24</text>
<path d="M165.12 383.50V386.00" stroke="#d8d8d8" stroke-width="1.04"/>
<text transform="translate(167.12,391.00) rotate(-49)" font-size="9.20" font-weight="bold" fill="#111" text-anchor="end" stroke="#111" stroke-width="0.25" stroke-linejoin="round">R48</text>
<path d="M194.56 383.50V386.00" stroke="#d8d8d8" stroke-width="1.04"/>
<text transform="translate(196.56,391.00) rotate(-49)" font-size="9.20" font-weight="bold" fill="#111" text-anchor="end" stroke="#111" stroke-width="0.25" stroke-linejoin="round">R72</text>
<path d="M224.00 383.50V386.00" stroke="#d8d8d8" stroke-width="1.04"/>
<text transform="translate(226.00,391.00) rotate(-49)" font-size="9.20" font-weight="bold" fill="#111" text-anchor="end" stroke="#111" stroke-width="0.25" stroke-linejoin="round">R144</text>
<text transform="translate(25.00,311.00) rotate(-90)" font-size="9.40" font-weight="bold" fill="#1f2a38" text-anchor="middle" stroke="#1f2a38" stroke-width="0.25" stroke-linejoin="round">Intensity</text>
<path d="M135.68 300.30V347.10M134.08 300.30H137.28M134.08 347.10H137.28" stroke="#bbbbbb" stroke-width="0.8" fill="none"/>
<path d="M224.00 358.37V367.03M222.40 358.37H225.60M222.40 367.03H225.60" stroke="#bbbbbb" stroke-width="0.8" fill="none"/>
<path d="M76.80 269.10V279.50M75.20 269.10H78.40M75.20 279.50H78.40" stroke="#bbbbbb" stroke-width="0.8" fill="none"/>
<path d="M165.12 311.57V334.10M163.52 311.57H166.72M163.52 334.10H166.72" stroke="#bbbbbb" stroke-width="0.8" fill="none"/>
<path d="M194.56 276.90V301.17M192.96 276.90H196.16M192.96 301.17H196.16" stroke="#bbbbbb" stroke-width="0.8" fill="none"/>
<path d="M224.00 286.87V297.27M222.40 286.87H225.60M222.40 297.27H225.60" stroke="#bbbbbb" stroke-width="0.8" fill="none"/>
<path d="M106.24 278.63V287.30M104.64 278.63H107.84M104.64 287.30H107.84" stroke="#bbbbbb" stroke-width="0.8" fill="none"/>
<path d="M135.68 358.37V372.23M134.08 358.37H137.28M134.08 372.23H137.28" stroke="#bbbbbb" stroke-width="0.8" fill="none"/>
<path d="M194.56 359.23V371.37M192.96 359.23H196.16M192.96 371.37H196.16" stroke="#bbbbbb" stroke-width="0.8" fill="none"/>
<path d="M165.12 355.77V364.43M163.52 355.77H166.72M163.52 364.43H166.72" stroke="#bbbbbb" stroke-width="0.8" fill="none"/>
<path d="M194.56 340.34V349.01M192.96 340.34H196.16M192.96 349.01H196.16" stroke="#bbbbbb" stroke-width="0.8" fill="none"/>
<polyline points="76.80,365.39 106.24,379.34 135.68,380.73 165.12,368.59 194.56,370.50 224.00,366.17" fill="none" stroke="#000000" stroke-width="1.6" stroke-linejoin="round"/>
<polyline points="76.80,365.30 106.24,379.17 135.68,323.70 165.12,370.50 194.56,366.17 224.00,370.50" fill="none" stroke="#ff8000" stroke-width="1.6" stroke-linejoin="round"/>
<polyline points="76.80,374.31 106.24,373.10 135.68,379.17 165.12,381.33 194.56,370.50 224.00,362.70" fill="none" stroke="#b000f0" stroke-width="1.6" stroke-linejoin="round"/>
<polyline points="76.80,274.30 106.24,377.43 135.68,367.90 165.12,322.83 194.56,289.03 224.00,292.07" fill="none" stroke="#00bb00" stroke-width="1.6" stroke-linejoin="round"/>
<polyline points="76.80,378.39 106.24,282.97 135.68,365.30 165.12,373.45 194.56,365.30 224.00,372.23" fill="none" stroke="#ff0000" stroke-width="1.6" stroke-linejoin="round"/>
<polyline points="76.80,324.31 106.24,376.57 135.68,370.50 165.12,360.10 194.56,344.67 224.00,314.17" fill="none" stroke="#0000ff" stroke-width="1.6" stroke-linejoin="round"/>
<circle cx="76.80" cy="365.39" r="3.20" fill="#000000"/>
<circle cx="106.24" cy="379.34" r="3.20" fill="#000000"/>
<circle cx="135.68" cy="380.73" r="3.20" fill="#000000"/>
<circle cx="165.12" cy="368.59" r="3.20" fill="#000000"/>
<circle cx="194.56" cy="370.50" r="3.20" fill="#000000"/>
<circle cx="224.00" cy="366.17" r="3.20" fill="#000000"/>
<polygon points="76.80,362.80 79.30,365.30 76.80,367.80 74.30,365.30" fill="#ff8000"/>
<polygon points="106.24,376.67 108.74,379.17 106.24,381.67 103.74,379.17" fill="#ff8000"/>
<polygon points="135.68,321.20 138.18,323.70 135.68,326.20 133.18,323.70" fill="#ff8000"/>
<polygon points="165.12,368.00 167.62,370.50 165.12,373.00 162.62,370.50" fill="#ff8000"/>
<polygon points="194.56,363.67 197.06,366.17 194.56,368.67 192.06,366.17" fill="#ff8000"/>
<polygon points="224.00,368.00 226.50,370.50 224.00,373.00 221.50,370.50" fill="#ff8000"/>
<polygon points="76.80,376.84 79.33,372.42 74.27,372.42" fill="#b000f0"/>
<polygon points="106.24,375.63 108.77,371.20 103.71,371.20" fill="#b000f0"/>
<polygon points="135.68,381.70 138.21,377.27 133.15,377.27" fill="#b000f0"/>
<polygon points="165.12,383.86 167.65,379.44 162.59,379.44" fill="#b000f0"/>
<polygon points="194.56,373.03 197.09,368.60 192.03,368.60" fill="#b000f0"/>
<polygon points="224.00,365.23 226.53,360.80 221.47,360.80" fill="#b000f0"/>
<polygon points="76.80,271.54 79.56,276.37 74.04,276.37" fill="#00bb00"/>
<polygon points="106.24,374.67 109.00,379.50 103.48,379.50" fill="#00bb00"/>
<polygon points="135.68,365.14 138.44,369.97 132.92,369.97" fill="#00bb00"/>
<polygon points="165.12,320.07 167.88,324.90 162.36,324.90" fill="#00bb00"/>
<polygon points="194.56,286.27 197.32,291.10 191.80,291.10" fill="#00bb00"/>
<polygon points="224.00,289.31 226.76,294.14 221.24,294.14" fill="#00bb00"/>
<rect x="74.40" y="375.99" width="4.80" height="4.80" fill="#ff0000"/>
<rect x="103.84" y="280.57" width="4.80" height="4.80" fill="#ff0000"/>
<rect x="133.28" y="362.90" width="4.80" height="4.80" fill="#ff0000"/>
<rect x="162.72" y="371.05" width="4.80" height="4.80" fill="#ff0000"/>
<rect x="192.16" y="362.90" width="4.80" height="4.80" fill="#ff0000"/>
<rect x="221.60" y="369.83" width="4.80" height="4.80" fill="#ff0000"/>
<circle cx="76.80" cy="324.31" r="2.50" fill="#0000ff"/>
<circle cx="106.24" cy="376.57" r="2.50" fill="#0000ff"/>
<circle cx="135.68" cy="370.50" r="2.50" fill="#0000ff"/>
<circle cx="165.12" cy="360.10" r="2.50" fill="#0000ff"/>
<circle cx="194.56" cy="344.67" r="2.50" fill="#0000ff"/>
<circle cx="224.00" cy="314.17" r="2.50" fill="#0000ff"/>
<rect x="122.00" y="252.80" width="2" height="1.2" fill="#d0d0d0"/>
<rect x="134.00" y="252.80" width="2" height="1.2" fill="#d0d0d0"/>
<rect x="145.90" y="252.80" width="2" height="1.2" fill="#d0d0d0"/>
<path d="M239.80 296.40H249.60" stroke="#000000" stroke-width="1.5"/>
<circle cx="244.70" cy="296.40" r="3.40" fill="#000000"/>
<text transform="translate(250.80,299.40) scale(0.959,1.000)" font-size="9.00" font-weight="bold" fill="#111" stroke="#111" stroke-width="0.25" stroke-linejoin="round"><tspan>C</tspan><tspan font-size="6.12" dy="3.42">88</tspan><tspan dy="-3.42">H</tspan><tspan font-size="6.12" dy="3.42">172</tspan><tspan dy="-3.42">O</tspan><tspan font-size="6.12" dy="3.42">4</tspan><tspan dy="-3.42">(0,1)</tspan></text>
<path d="M239.80 305.60H249.60" stroke="#ff8000" stroke-width="1.5"/>
<polygon points="244.70,303.23 247.07,305.60 244.70,307.98 242.32,305.60" fill="#ff8000"/>
<text transform="translate(250.80,309.80) scale(0.959,1.000)" font-size="9.00" font-weight="bold" fill="#111" stroke="#111" stroke-width="0.25" stroke-linejoin="round"><tspan>C</tspan><tspan font-size="6.12" dy="3.42">87</tspan><tspan dy="-3.42">H</tspan><tspan font-size="6.12" dy="3.42">170</tspan><tspan dy="-3.42">O</tspan><tspan font-size="6.12" dy="3.42">4</tspan><tspan dy="-3.42">(0,1)</tspan></text>
<path d="M239.80 315.70H249.60" stroke="#b000f0" stroke-width="1.5"/>
<polygon points="244.70,318.69 247.69,313.46 241.71,313.46" fill="#b000f0"/>
<text transform="translate(250.80,320.90) scale(0.959,1.000)" font-size="9.00" font-weight="bold" fill="#111" stroke="#111" stroke-width="0.25" stroke-linejoin="round"><tspan>C</tspan><tspan font-size="6.12" dy="3.42">83</tspan><tspan dy="-3.42">H</tspan><tspan font-size="6.12" dy="3.42">162</tspan><tspan dy="-3.42">O</tspan><tspan font-size="6.12" dy="3.42">4</tspan><tspan dy="-3.42">(0,1)</tspan></text>
<path d="M239.80 326.20H249.60" stroke="#00bb00" stroke-width="1.5"/>
<polygon points="244.70,323.21 247.69,328.44 241.71,328.44" fill="#00bb00"/>
<text transform="translate(250.80,331.90) scale(0.959,1.000)" font-size="9.00" font-weight="bold" fill="#111" stroke="#111" stroke-width="0.25" stroke-linejoin="round"><tspan>C</tspan><tspan font-size="6.12" dy="3.42">80</tspan><tspan dy="-3.42">H</tspan><tspan font-size="6.12" dy="3.42">156</tspan><tspan dy="-3.42">O</tspan><tspan font-size="6.12" dy="3.42">4</tspan><tspan dy="-3.42">(0,1)</tspan></text>
<path d="M239.80 337.20H249.60" stroke="#ff0000" stroke-width="1.5"/>
<rect x="242.10" y="334.60" width="5.20" height="5.20" fill="#ff0000"/>
<text transform="translate(250.80,343.00) scale(0.959,1.000)" font-size="9.00" font-weight="bold" fill="#111" stroke="#111" stroke-width="0.25" stroke-linejoin="round"><tspan>C</tspan><tspan font-size="6.12" dy="3.42">77</tspan><tspan dy="-3.42">H</tspan><tspan font-size="6.12" dy="3.42">150</tspan><tspan dy="-3.42">O</tspan><tspan font-size="6.12" dy="3.42">4</tspan><tspan dy="-3.42">(0,1)</tspan></text>
<path d="M239.80 347.70H249.60" stroke="#0000ff" stroke-width="1.5"/>
<circle cx="244.70" cy="347.70" r="2.60" fill="#0000ff"/>
<text transform="translate(250.80,354.80) scale(0.959,1.000)" font-size="9.00" font-weight="bold" fill="#111" stroke="#111" stroke-width="0.25" stroke-linejoin="round"><tspan>C</tspan><tspan font-size="6.12" dy="3.42">74</tspan><tspan dy="-3.42">H</tspan><tspan font-size="6.12" dy="3.42">144</tspan><tspan dy="-3.42">O</tspan><tspan font-size="6.12" dy="3.42">4</tspan><tspan dy="-3.42">(0,1)</tspan></text>
<text transform="translate(365.20,244.70)" font-size="14.50" font-weight="bold" fill="#000">d</text>
<path d="M411.10 212.10V340.00H576.90" fill="none" stroke="#d8d8d8" stroke-width="1.3"/>
<path d="M408.60 340.00H411.10" stroke="#d8d8d8" stroke-width="1.04"/>
<text transform="translate(407.80,343.53) scale(1.000,1.300)" font-size="8.40" font-weight="bold" fill="#1a1a1a" text-anchor="end" stroke="#1a1a1a" stroke-width="0.25" stroke-linejoin="round">0</text>
<path d="M408.60 297.53H411.10" stroke="#d8d8d8" stroke-width="1.04"/>
<text transform="translate(407.80,301.06) scale(1.000,1.300)" font-size="8.40" font-weight="bold" fill="#1a1a1a" text-anchor="end" stroke="#1a1a1a" stroke-width="0.25" stroke-linejoin="round">5000</text>
<path d="M408.60 255.07H411.10" stroke="#d8d8d8" stroke-width="1.04"/>
<text transform="translate(407.80,258.60) scale(1.000,1.300)" font-size="8.40" font-weight="bold" fill="#1a1a1a" text-anchor="end" stroke="#1a1a1a" stroke-width="0.25" stroke-linejoin="round">10000</text>
<path d="M408.60 212.60H411.10" stroke="#d8d8d8" stroke-width="1.04"/>
<text transform="translate(407.80,216.13) scale(1.000,1.300)" font-size="8.40" font-weight="bold" fill="#1a1a1a" text-anchor="end" stroke="#1a1a1a" stroke-width="0.25" stroke-linejoin="round">15000</text>
<path d="M425.60 340.00V342.50" stroke="#d8d8d8" stroke-width="1.04"/>
<text transform="translate(428.60,347.20) rotate(-45)" font-size="8.60" font-weight="bold" fill="#111" text-anchor="end" stroke="#111" stroke-width="0.25" stroke-linejoin="round">Normoxia</text>
<path d="M453.22 340.00V342.50" stroke="#d8d8d8" stroke-width="1.04"/>
<text transform="translate(456.22,347.20) rotate(-45)" font-size="8.60" font-weight="bold" fill="#111" text-anchor="end" stroke="#111" stroke-width="0.25" stroke-linejoin="round">Dormancy</text>
<path d="M480.84 340.00V342.50" stroke="#d8d8d8" stroke-width="1.04"/>
<text transform="translate(483.84,347.20) rotate(-45)" font-size="8.60" font-weight="bold" fill="#111" text-anchor="end" stroke="#111" stroke-width="0.25" stroke-linejoin="round">R24</text>
<path d="M508.46 340.00V342.50" stroke="#d8d8d8" stroke-width="1.04"/>
<text transform="translate(511.46,347.20) rotate(-45)" font-size="8.60" font-weight="bold" fill="#111" text-anchor="end" stroke="#111" stroke-width="0.25" stroke-linejoin="round">R48</text>
<path d="M536.08 340.00V342.50" stroke="#d8d8d8" stroke-width="1.04"/>
<text transform="translate(539.08,347.20) rotate(-45)" font-size="8.60" font-weight="bold" fill="#111" text-anchor="end" stroke="#111" stroke-width="0.25" stroke-linejoin="round">R72</text>
<path d="M563.70 340.00V342.50" stroke="#d8d8d8" stroke-width="1.04"/>
<text transform="translate(566.70,347.20) rotate(-45)" font-size="8.60" font-weight="bold" fill="#111" text-anchor="end" stroke="#111" stroke-width="0.25" stroke-linejoin="round">R144</text>
<text transform="translate(373.60,279.60) scale(1.120,1.000) rotate(-90)" font-size="9.50" font-weight="bold" fill="#1f2a38" text-anchor="middle" stroke="#1f2a38" stroke-width="0.25" stroke-linejoin="round">Intensity</text>
<path d="M425.60 279.70V284.79M424.00 279.70H427.20M424.00 284.79H427.20" stroke="#bbbbbb" stroke-width="0.8" fill="none"/>
<path d="M536.08 300.34V329.21M534.48 300.34H537.68M534.48 329.21H537.68" stroke="#bbbbbb" stroke-width="0.8" fill="none"/>
<path d="M563.70 269.93V273.33M562.10 269.93H565.30M562.10 273.33H565.30" stroke="#bbbbbb" stroke-width="0.8" fill="none"/>
<path d="M453.22 238.93V272.90M451.62 238.93H454.82M451.62 272.90H454.82" stroke="#bbbbbb" stroke-width="0.8" fill="none"/>
<path d="M425.60 227.89V236.38M424.00 227.89H427.20M424.00 236.38H427.20" stroke="#bbbbbb" stroke-width="0.8" fill="none"/>
<path d="M480.84 315.79V332.78M479.24 315.79H482.44M479.24 332.78H482.44" stroke="#bbbbbb" stroke-width="0.8" fill="none"/>
<path d="M508.46 269.08V291.16M506.86 269.08H510.06M506.86 291.16H510.06" stroke="#bbbbbb" stroke-width="0.8" fill="none"/>
<path d="M536.08 235.02V258.80M534.48 235.02H537.68M534.48 258.80H537.68" stroke="#bbbbbb" stroke-width="0.8" fill="none"/>
<path d="M563.70 231.79V248.78M562.10 231.79H565.30M562.10 248.78H565.30" stroke="#bbbbbb" stroke-width="0.8" fill="none"/>
<path d="M563.70 316.22V321.31M562.10 316.22H565.30M562.10 321.31H565.30" stroke="#bbbbbb" stroke-width="0.8" fill="none"/>
<path d="M480.84 258.04V304.75M479.24 258.04H482.44M479.24 304.75H482.44" stroke="#bbbbbb" stroke-width="0.8" fill="none"/>
<polyline points="425.60,321.31 453.22,334.05 480.84,332.36 508.46,324.71 536.08,326.41 563.70,323.01" fill="none" stroke="#0000ff" stroke-width="1.6" stroke-linejoin="round"/>
<polyline points="425.60,336.60 453.22,334.05 480.84,331.51 508.46,329.81 536.08,328.96 563.70,326.41" fill="none" stroke="#ff0000" stroke-width="1.6" stroke-linejoin="round"/>
<polyline points="425.60,282.25 453.22,334.05 480.84,326.41 508.46,320.04 536.08,314.77 563.70,271.63" fill="none" stroke="#00bb00" stroke-width="1.6" stroke-linejoin="round"/>
<polyline points="425.60,333.55 453.22,255.92 480.84,321.31 508.46,336.09 536.08,327.26 563.70,328.96" fill="none" stroke="#b000f0" stroke-width="1.6" stroke-linejoin="round"/>
<polyline points="425.60,323.86 453.22,337.45 480.84,334.05 508.46,328.11 536.08,329.81 563.70,325.56" fill="none" stroke="#ff8000" stroke-width="1.6" stroke-linejoin="round"/>
<polyline points="425.60,232.13 453.22,334.05 480.84,324.29 508.46,280.12 536.08,246.91 563.70,240.29" fill="none" stroke="#000000" stroke-width="1.6" stroke-linejoin="round"/>
<polyline points="425.60,330.66 453.22,328.96 480.84,335.75 508.46,338.30 536.08,328.11 563.70,318.77" fill="none" stroke="#9b6a2a" stroke-width="1.6" stroke-linejoin="round"/>
<polyline points="425.60,295.83 453.22,339.32 480.84,334.48 508.46,327.26 536.08,316.39 563.70,323.01" fill="none" stroke="#000080" stroke-width="1.6" stroke-linejoin="round"/>
<polyline points="425.60,321.31 453.22,330.66 480.84,281.40 508.46,328.96 536.08,323.86 563.70,325.56" fill="none" stroke="#600060" stroke-width="1.6" stroke-linejoin="round"/>
<circle cx="425.60" cy="321.31" r="2.20" fill="#0000ff"/>
<circle cx="453.22" cy="334.05" r="2.20" fill="#0000ff"/>
<circle cx="480.84" cy="332.36" r="2.20" fill="#0000ff"/>
<circle cx="508.46" cy="324.71" r="2.20" fill="#0000ff"/>
<circle cx="536.08" cy="326.41" r="2.20" fill="#0000ff"/>
<circle cx="563.70" cy="323.01" r="2.20" fill="#0000ff"/>
<rect x="423.40" y="334.40" width="4.40" height="4.40" fill="#ff0000"/>
<rect x="451.02" y="331.85" width="4.40" height="4.40" fill="#ff0000"/>
<rect x="478.64" y="329.31" width="4.40" height="4.40" fill="#ff0000"/>
<rect x="506.26" y="327.61" width="4.40" height="4.40" fill="#ff0000"/>
<rect x="533.88" y="326.76" width="4.40" height="4.40" fill="#ff0000"/>
<rect x="561.50" y="324.21" width="4.40" height="4.40" fill="#ff0000"/>
<polygon points="425.60,279.72 428.13,284.14 423.07,284.14" fill="#00bb00"/>
<polygon points="453.22,331.52 455.75,335.95 450.69,335.95" fill="#00bb00"/>
<polygon points="480.84,323.88 483.37,328.31 478.31,328.31" fill="#00bb00"/>
<polygon points="508.46,317.51 510.99,321.94 505.93,321.94" fill="#00bb00"/>
<polygon points="536.08,312.24 538.61,316.67 533.55,316.67" fill="#00bb00"/>
<polygon points="563.70,269.10 566.23,273.53 561.17,273.53" fill="#00bb00"/>
<polygon points="425.60,336.08 428.13,331.65 423.07,331.65" fill="#b000f0"/>
<polygon points="453.22,258.45 455.75,254.02 450.69,254.02" fill="#b000f0"/>
<polygon points="480.84,323.84 483.37,319.42 478.31,319.42" fill="#b000f0"/>
<polygon points="508.46,338.62 510.99,334.20 505.93,334.20" fill="#b000f0"/>
<polygon points="536.08,329.79 538.61,325.36 533.55,325.36" fill="#b000f0"/>
<polygon points="563.70,331.49 566.23,327.06 561.17,327.06" fill="#b000f0"/>
<polygon points="425.60,321.61 427.85,323.86 425.60,326.11 423.35,323.86" fill="#ff8000"/>
<polygon points="453.22,335.20 455.47,337.45 453.22,339.70 450.97,337.45" fill="#ff8000"/>
<polygon points="480.84,331.80 483.09,334.05 480.84,336.30 478.59,334.05" fill="#ff8000"/>
<polygon points="508.46,325.86 510.71,328.11 508.46,330.36 506.21,328.11" fill="#ff8000"/>
<polygon points="536.08,327.56 538.33,329.81 536.08,332.06 533.83,329.81" fill="#ff8000"/>
<polygon points="563.70,323.31 565.95,325.56 563.70,327.81 561.45,325.56" fill="#ff8000"/>
<circle cx="425.60" cy="232.13" r="3.10" fill="#000000"/>
<circle cx="453.22" cy="334.05" r="3.10" fill="#000000"/>
<circle cx="480.84" cy="324.29" r="3.10" fill="#000000"/>
<circle cx="508.46" cy="280.12" r="3.10" fill="#000000"/>
<circle cx="536.08" cy="246.91" r="3.10" fill="#000000"/>
<circle cx="563.70" cy="240.29" r="3.10" fill="#000000"/>
<rect x="422.80" y="327.86" width="5.60" height="5.60" fill="#9b6a2a"/>
<rect x="450.42" y="326.16" width="5.60" height="5.60" fill="#9b6a2a"/>
<rect x="478.04" y="332.95" width="5.60" height="5.60" fill="#9b6a2a"/>
<rect x="505.66" y="335.50" width="5.60" height="5.60" fill="#9b6a2a"/>
<rect x="533.28" y="325.31" width="5.60" height="5.60" fill="#9b6a2a"/>
<rect x="560.90" y="315.97" width="5.60" height="5.60" fill="#9b6a2a"/>
<polygon points="425.60,292.50 428.94,298.34 422.27,298.34" fill="#000080"/>
<polygon points="453.22,335.99 456.56,341.82 449.89,341.82" fill="#000080"/>
<polygon points="480.84,331.14 484.18,336.98 477.51,336.98" fill="#000080"/>
<polygon points="508.46,323.93 511.80,329.76 505.13,329.76" fill="#000080"/>
<polygon points="536.08,313.05 539.42,318.89 532.75,318.89" fill="#000080"/>
<polygon points="563.70,319.68 567.04,325.51 560.37,325.51" fill="#000080"/>
<polygon points="425.60,324.65 428.94,318.81 422.27,318.81" fill="#600060"/>
<polygon points="453.22,333.99 456.56,328.16 449.89,328.16" fill="#600060"/>
<polygon points="480.84,284.73 484.18,278.89 477.51,278.89" fill="#600060"/>
<polygon points="508.46,332.29 511.80,326.46 505.13,326.46" fill="#600060"/>
<polygon points="536.08,327.20 539.42,321.36 532.75,321.36" fill="#600060"/>
<polygon points="563.70,328.90 567.04,323.06 560.37,323.06" fill="#600060"/>
<path d="M578.10 233.10H586.90" stroke="#0000ff" stroke-width="1.5"/>
<circle cx="582.50" cy="233.10" r="2.50" fill="#0000ff"/>
<text transform="translate(587.70,236.30) scale(1.106,1.000)" font-size="7.80" font-weight="bold" fill="#111" stroke="#111" stroke-width="0.25" stroke-linejoin="round"><tspan>C</tspan><tspan font-size="5.30" dy="2.96">88</tspan><tspan dy="-2.96">H</tspan><tspan font-size="5.30" dy="2.96">172</tspan><tspan dy="-2.96">O</tspan><tspan font-size="5.30" dy="2.96">4</tspan><tspan dy="-2.96">(0,1)</tspan></text>
<path d="M578.10 243.40H586.90" stroke="#ff0000" stroke-width="1.5"/>
<rect x="580.00" y="240.90" width="5.00" height="5.00" fill="#ff0000"/>
<text transform="translate(588.09,246.60) scale(1.106,1.000)" font-size="7.80" font-weight="bold" fill="#111" stroke="#111" stroke-width="0.25" stroke-linejoin="round"><tspan>C</tspan><tspan font-size="5.30" dy="2.96">72</tspan><tspan dy="-2.96">H</tspan><tspan font-size="5.30" dy="2.96">140</tspan><tspan dy="-2.96">O</tspan><tspan font-size="5.30" dy="2.96">4</tspan><tspan dy="-2.96">(1)</tspan></text>
<path d="M578.10 253.50H586.90" stroke="#00bb00" stroke-width="1.5"/>
<polygon points="582.50,250.62 585.38,255.66 579.62,255.66" fill="#00bb00"/>
<text transform="translate(588.48,256.70) scale(1.106,1.000)" font-size="7.80" font-weight="bold" fill="#111" stroke="#111" stroke-width="0.25" stroke-linejoin="round"><tspan>C</tspan><tspan font-size="5.30" dy="2.96">74</tspan><tspan dy="-2.96">H</tspan><tspan font-size="5.30" dy="2.96">144</tspan><tspan dy="-2.96">O</tspan><tspan font-size="5.30" dy="2.96">4</tspan><tspan dy="-2.96">(0,1)</tspan></text>
<path d="M578.10 263.40H586.90" stroke="#b000f0" stroke-width="1.5"/>
<polygon points="582.50,266.27 585.38,261.24 579.62,261.24" fill="#b000f0"/>
<text transform="translate(588.86,266.60) scale(1.106,1.000)" font-size="7.80" font-weight="bold" fill="#111" stroke="#111" stroke-width="0.25" stroke-linejoin="round"><tspan>C</tspan><tspan font-size="5.30" dy="2.96">77</tspan><tspan dy="-2.96">H</tspan><tspan font-size="5.30" dy="2.96">150</tspan><tspan dy="-2.96">O</tspan><tspan font-size="5.30" dy="2.96">4</tspan><tspan dy="-2.96">(0,1)</tspan></text>
<path d="M578.10 273.20H586.90" stroke="#ff8000" stroke-width="1.5"/>
<polygon points="582.50,270.07 585.62,273.20 582.50,276.32 579.38,273.20" fill="#ff8000"/>
<text transform="translate(589.25,276.40) scale(1.106,1.000)" font-size="7.80" font-weight="bold" fill="#111" stroke="#111" stroke-width="0.25" stroke-linejoin="round"><tspan>C</tspan><tspan font-size="5.30" dy="2.96">78</tspan><tspan dy="-2.96">H</tspan><tspan font-size="5.30" dy="2.96">152</tspan><tspan dy="-2.96">O</tspan><tspan font-size="5.30" dy="2.96">4</tspan><tspan dy="-2.96">(0,1)</tspan></text>
<path d="M578.10 283.10H586.90" stroke="#000000" stroke-width="1.5"/>
<circle cx="582.50" cy="283.10" r="3.60" fill="#000000"/>
<text transform="translate(589.64,286.30) scale(1.106,1.000)" font-size="7.80" font-weight="bold" fill="#111" stroke="#111" stroke-width="0.25" stroke-linejoin="round"><tspan>C</tspan><tspan font-size="5.30" dy="2.96">80</tspan><tspan dy="-2.96">H</tspan><tspan font-size="5.30" dy="2.96">156</tspan><tspan dy="-2.96">O</tspan><tspan font-size="5.30" dy="2.96">4</tspan><tspan dy="-2.96">(0,1)</tspan></text>
<path d="M578.10 292.50H586.90" stroke="#9b6a2a" stroke-width="1.5"/>
<rect x="579.30" y="289.30" width="6.40" height="6.40" fill="#9b6a2a"/>
<text transform="translate(590.02,295.70) scale(1.106,1.000)" font-size="7.80" font-weight="bold" fill="#111" stroke="#111" stroke-width="0.25" stroke-linejoin="round"><tspan>C</tspan><tspan font-size="5.30" dy="2.96">83</tspan><tspan dy="-2.96">H</tspan><tspan font-size="5.30" dy="2.96">162</tspan><tspan dy="-2.96">O</tspan><tspan font-size="5.30" dy="2.96">4</tspan><tspan dy="-2.96">(0,1)</tspan></text>
<path d="M578.10 302.50H586.90" stroke="#000080" stroke-width="1.5"/>
<polygon points="582.50,298.82 586.18,305.26 578.82,305.26" fill="#000080"/>
<text transform="translate(590.41,305.70) scale(1.106,1.000)" font-size="7.80" font-weight="bold" fill="#111" stroke="#111" stroke-width="0.25" stroke-linejoin="round"><tspan>C</tspan><tspan font-size="5.30" dy="2.96">84</tspan><tspan dy="-2.96">H</tspan><tspan font-size="5.30" dy="2.96">164</tspan><tspan dy="-2.96">O</tspan><tspan font-size="5.30" dy="2.96">4</tspan><tspan dy="-2.96">(0,1)</tspan></text>
<path d="M578.10 310.70H586.90" stroke="#600060" stroke-width="1.5"/>
<polygon points="582.50,314.50 586.29,307.85 578.71,307.85" fill="#600060"/>
<text transform="translate(590.80,317.00) scale(1.106,1.000)" font-size="7.80" font-weight="bold" fill="#111" stroke="#111" stroke-width="0.25" stroke-linejoin="round"><tspan>C</tspan><tspan font-size="5.30" dy="2.96">87</tspan><tspan dy="-2.96">H</tspan><tspan font-size="5.30" dy="2.96">170</tspan><tspan dy="-2.96">O</tspan><tspan font-size="5.30" dy="2.96">4</tspan><tspan dy="-2.96">(0,1)</tspan></text>
<text transform="translate(15.00,464.20)" font-size="14.60" font-weight="bold" fill="#000">e</text>
<path d="M61.00 462.30V588.30H232.40" fill="none" stroke="#d8d8d8" stroke-width="1.3"/>
<path d="M58.50 588.30H61.00" stroke="#d8d8d8" stroke-width="1.04"/>
<text transform="translate(56.80,592.49) scale(1.000,1.350)" font-size="7.80" font-weight="bold" fill="#1a1a1a" text-anchor="end" stroke="#1a1a1a" stroke-width="0.25" stroke-linejoin="round">0</text>
<path d="M58.50 546.47H61.00" stroke="#d8d8d8" stroke-width="1.04"/>
<text transform="translate(57.40,550.66) scale(1.000,1.350)" font-size="7.80" font-weight="bold" fill="#1a1a1a" text-anchor="end" stroke="#1a1a1a" stroke-width="0.25" stroke-linejoin="round">10000</text>
<path d="M58.50 504.63H61.00" stroke="#d8d8d8" stroke-width="1.04"/>
<text transform="translate(57.40,508.82) scale(1.000,1.350)" font-size="7.80" font-weight="bold" fill="#1a1a1a" text-anchor="end" stroke="#1a1a1a" stroke-width="0.25" stroke-linejoin="round">20000</text>
<path d="M58.50 462.80H61.00" stroke="#d8d8d8" stroke-width="1.04"/>
<text transform="translate(57.40,466.99) scale(1.000,1.350)" font-size="7.80" font-weight="bold" fill="#1a1a1a" text-anchor="end" stroke="#1a1a1a" stroke-width="0.25" stroke-linejoin="round">30000</text>
<path d="M75.20 588.30V590.80" stroke="#d8d8d8" stroke-width="1.04"/>
<text transform="translate(78.20,595.80) rotate(-47)" font-size="8.30" font-weight="bold" fill="#111" text-anchor="end" stroke="#111" stroke-width="0.25" stroke-linejoin="round">Normoxia</text>
<path d="M103.90 588.30V590.80" stroke="#d8d8d8" stroke-width="1.04"/>
<text transform="translate(106.90,595.80) rotate(-47)" font-size="8.30" font-weight="bold" fill="#111" text-anchor="end" stroke="#111" stroke-width="0.25" stroke-linejoin="round">Dormancy</text>
<path d="M132.60 588.30V590.80" stroke="#d8d8d8" stroke-width="1.04"/>
<text transform="translate(135.60,595.80) rotate(-47)" font-size="8.30" font-weight="bold" fill="#111" text-anchor="end" stroke="#111" stroke-width="0.25" stroke-linejoin="round">R24</text>
<path d="M161.30 588.30V590.80" stroke="#d8d8d8" stroke-width="1.04"/>
<text transform="translate(164.30,595.80) rotate(-47)" font-size="8.30" font-weight="bold" fill="#111" text-anchor="end" stroke="#111" stroke-width="0.25" stroke-linejoin="round">R48</text>
<path d="M190.00 588.30V590.80" stroke="#d8d8d8" stroke-width="1.04"/>
<text transform="translate(193.00,595.80) rotate(-47)" font-size="8.30" font-weight="bold" fill="#111" text-anchor="end" stroke="#111" stroke-width="0.25" stroke-linejoin="round">R72</text>
<path d="M218.70 588.30V590.80" stroke="#d8d8d8" stroke-width="1.04"/>
<text transform="translate(221.70,595.80) rotate(-47)" font-size="8.30" font-weight="bold" fill="#111" text-anchor="end" stroke="#111" stroke-width="0.25" stroke-linejoin="round">R144</text>
<text transform="translate(31.00,523.20) rotate(-90)" font-size="8.90" font-weight="bold" fill="#111" text-anchor="middle" stroke="#111" stroke-width="0.25" stroke-linejoin="round">Intensity</text>
<path d="M75.20 482.46V505.89M73.60 482.46H76.80M73.60 505.89H76.80" stroke="#bbbbbb" stroke-width="0.8" fill="none"/>
<path d="M103.90 531.82V545.21M102.30 531.82H105.50M102.30 545.21H105.50" stroke="#bbbbbb" stroke-width="0.8" fill="none"/>
<path d="M161.30 505.89V530.99M159.70 505.89H162.90M159.70 530.99H162.90" stroke="#bbbbbb" stroke-width="0.8" fill="none"/>
<path d="M218.70 570.73V577.42M217.10 570.73H220.30M217.10 577.42H220.30" stroke="#bbbbbb" stroke-width="0.8" fill="none"/>
<path d="M190.00 531.82V546.88M188.40 531.82H191.60M188.40 546.88H191.60" stroke="#bbbbbb" stroke-width="0.8" fill="none"/>
<path d="M75.20 550.02V553.37M73.60 550.02H76.80M73.60 553.37H76.80" stroke="#bbbbbb" stroke-width="0.8" fill="none"/>
<path d="M103.90 491.25V518.02M102.30 491.25H105.50M102.30 518.02H105.50" stroke="#bbbbbb" stroke-width="0.8" fill="none"/>
<path d="M161.30 556.92V563.62M159.70 556.92H162.90M159.70 563.62H162.90" stroke="#bbbbbb" stroke-width="0.8" fill="none"/>
<path d="M75.20 508.82V528.06M73.60 508.82H76.80M73.60 528.06H76.80" stroke="#bbbbbb" stroke-width="0.8" fill="none"/>
<path d="M218.70 536.01V552.74M217.10 536.01H220.30M217.10 552.74H220.30" stroke="#bbbbbb" stroke-width="0.8" fill="none"/>
<polyline points="75.20,494.18 103.90,538.52 132.60,583.91 161.30,518.44 190.00,576.17 218.70,574.08" fill="none" stroke="#0000ff" stroke-width="1.6" stroke-linejoin="round"/>
<polyline points="75.20,551.70 103.90,579.93 132.60,577.42 161.30,575.33 190.00,539.36 218.70,527.64" fill="none" stroke="#ff0000" stroke-width="1.6" stroke-linejoin="round"/>
<polyline points="75.20,576.17 103.90,586.63 132.60,585.37 161.30,571.99 190.00,578.68 218.70,578.26" fill="none" stroke="#00bb00" stroke-width="1.6" stroke-linejoin="round"/>
<polyline points="75.20,581.61 103.90,587.46 132.60,587.46 161.30,583.28 190.00,566.55 218.70,581.61" fill="none" stroke="#b000f0" stroke-width="1.6" stroke-linejoin="round"/>
<polyline points="75.20,553.58 103.90,582.44 132.60,578.26 161.30,564.87 190.00,573.66 218.70,576.59" fill="none" stroke="#ff8000" stroke-width="1.6" stroke-linejoin="round"/>
<polyline points="75.20,571.57 103.90,504.63 132.60,571.99 161.30,560.27 190.00,564.87 218.70,582.02" fill="none" stroke="#000000" stroke-width="1.6" stroke-linejoin="round"/>
<polyline points="75.20,579.10 103.90,581.19 132.60,584.12 161.30,584.12 190.00,580.77 218.70,580.35" fill="none" stroke="#9b6a2a" stroke-width="1.6" stroke-linejoin="round"/>
<polyline points="75.20,518.44 103.90,587.88 132.60,575.33 161.30,579.51 190.00,564.87 218.70,544.38" fill="none" stroke="#000080" stroke-width="1.6" stroke-linejoin="round"/>
<polyline points="75.20,581.61 103.90,581.61 132.60,583.28 161.30,582.02 190.00,583.28 218.70,582.02" fill="none" stroke="#600060" stroke-width="1.6" stroke-linejoin="round"/>
<circle cx="75.20" cy="494.18" r="2.30" fill="#0000ff"/>
<circle cx="103.90" cy="538.52" r="2.30" fill="#0000ff"/>
<circle cx="132.60" cy="583.91" r="2.30" fill="#0000ff"/>
<circle cx="161.30" cy="518.44" r="2.30" fill="#0000ff"/>
<circle cx="190.00" cy="576.17" r="2.30" fill="#0000ff"/>
<circle cx="218.70" cy="574.08" r="2.30" fill="#0000ff"/>
<rect x="73.00" y="549.50" width="4.40" height="4.40" fill="#ff0000"/>
<rect x="101.70" y="577.73" width="4.40" height="4.40" fill="#ff0000"/>
<rect x="130.40" y="575.22" width="4.40" height="4.40" fill="#ff0000"/>
<rect x="159.10" y="573.13" width="4.40" height="4.40" fill="#ff0000"/>
<rect x="187.80" y="537.15" width="4.40" height="4.40" fill="#ff0000"/>
<rect x="216.50" y="525.44" width="4.40" height="4.40" fill="#ff0000"/>
<polygon points="75.20,573.64 77.73,578.07 72.67,578.07" fill="#00bb00"/>
<polygon points="103.90,584.10 106.43,588.52 101.37,588.52" fill="#00bb00"/>
<polygon points="132.60,582.84 135.13,587.27 130.07,587.27" fill="#00bb00"/>
<polygon points="161.30,569.46 163.83,573.88 158.77,573.88" fill="#00bb00"/>
<polygon points="190.00,576.15 192.53,580.58 187.47,580.58" fill="#00bb00"/>
<polygon points="218.70,575.73 221.23,580.16 216.17,580.16" fill="#00bb00"/>
<polygon points="75.20,584.14 77.73,579.71 72.67,579.71" fill="#b000f0"/>
<polygon points="103.90,589.99 106.43,585.57 101.37,585.57" fill="#b000f0"/>
<polygon points="132.60,589.99 135.13,585.57 130.07,585.57" fill="#b000f0"/>
<polygon points="161.30,585.81 163.83,581.38 158.77,581.38" fill="#b000f0"/>
<polygon points="190.00,569.08 192.53,564.65 187.47,564.65" fill="#b000f0"/>
<polygon points="218.70,584.14 221.23,579.71 216.17,579.71" fill="#b000f0"/>
<polygon points="75.20,551.33 77.45,553.58 75.20,555.83 72.95,553.58" fill="#ff8000"/>
<polygon points="103.90,580.19 106.15,582.44 103.90,584.69 101.65,582.44" fill="#ff8000"/>
<polygon points="132.60,576.01 134.85,578.26 132.60,580.51 130.35,578.26" fill="#ff8000"/>
<polygon points="161.30,562.62 163.55,564.87 161.30,567.12 159.05,564.87" fill="#ff8000"/>
<polygon points="190.00,571.41 192.25,573.66 190.00,575.91 187.75,573.66" fill="#ff8000"/>
<polygon points="218.70,574.34 220.95,576.59 218.70,578.84 216.45,576.59" fill="#ff8000"/>
<circle cx="75.20" cy="571.57" r="3.10" fill="#000000"/>
<circle cx="103.90" cy="504.63" r="3.10" fill="#000000"/>
<circle cx="132.60" cy="571.99" r="3.10" fill="#000000"/>
<circle cx="161.30" cy="560.27" r="3.10" fill="#000000"/>
<circle cx="190.00" cy="564.87" r="3.10" fill="#000000"/>
<circle cx="218.70" cy="582.02" r="3.10" fill="#000000"/>
<rect x="72.50" y="576.40" width="5.40" height="5.40" fill="#9b6a2a"/>
<rect x="101.20" y="578.49" width="5.40" height="5.40" fill="#9b6a2a"/>
<rect x="129.90" y="581.42" width="5.40" height="5.40" fill="#9b6a2a"/>
<rect x="158.60" y="581.42" width="5.40" height="5.40" fill="#9b6a2a"/>
<rect x="187.30" y="578.07" width="5.40" height="5.40" fill="#9b6a2a"/>
<rect x="216.00" y="577.65" width="5.40" height="5.40" fill="#9b6a2a"/>
<polygon points="75.20,515.10 78.53,520.94 71.87,520.94" fill="#000080"/>
<polygon points="103.90,584.55 107.23,590.38 100.57,590.38" fill="#000080"/>
<polygon points="132.60,572.00 135.94,577.83 129.26,577.83" fill="#000080"/>
<polygon points="161.30,576.18 164.64,582.02 157.97,582.02" fill="#000080"/>
<polygon points="190.00,561.54 193.34,567.37 186.66,567.37" fill="#000080"/>
<polygon points="218.70,541.04 222.03,546.88 215.36,546.88" fill="#000080"/>
<polygon points="75.20,584.71 78.31,579.28 72.09,579.28" fill="#600060"/>
<polygon points="103.90,584.71 107.01,579.28 100.80,579.28" fill="#600060"/>
<polygon points="132.60,586.38 135.70,580.95 129.50,580.95" fill="#600060"/>
<polygon points="161.30,585.13 164.41,579.70 158.20,579.70" fill="#600060"/>
<polygon points="190.00,586.38 193.10,580.95 186.90,580.95" fill="#600060"/>
<polygon points="218.70,585.13 221.80,579.70 215.59,579.70" fill="#600060"/>
<path d="M244.00 442.80H253.00" stroke="#0000ff" stroke-width="1.5"/>
<circle cx="248.50" cy="442.80" r="2.50" fill="#0000ff"/>
<text transform="translate(254.60,445.77) scale(0.855,1.000)" font-size="8.80" font-weight="bold" fill="#111" stroke="#111" stroke-width="0.25" stroke-linejoin="round"><tspan>C</tspan><tspan font-size="5.98" dy="3.34">73</tspan><tspan dy="-3.34">H</tspan><tspan font-size="5.98" dy="3.34">144</tspan><tspan dy="-3.34">O</tspan><tspan font-size="5.98" dy="3.34">4</tspan><tspan dy="-3.34">(1)</tspan></text>
<path d="M244.00 455.20H253.00" stroke="#ff0000" stroke-width="1.5"/>
<rect x="246.00" y="452.70" width="5.00" height="5.00" fill="#ff0000"/>
<text transform="translate(255.01,458.17) scale(0.855,1.000)" font-size="8.80" font-weight="bold" fill="#111" stroke="#111" stroke-width="0.25" stroke-linejoin="round"><tspan>C</tspan><tspan font-size="5.98" dy="3.34">74</tspan><tspan dy="-3.34">H</tspan><tspan font-size="5.98" dy="3.34">146</tspan><tspan dy="-3.34">O</tspan><tspan font-size="5.98" dy="3.34">4</tspan><tspan dy="-3.34">(0,1)</tspan></text>
<path d="M244.00 467.80H253.00" stroke="#00bb00" stroke-width="1.5"/>
<polygon points="248.50,464.93 251.38,469.96 245.62,469.96" fill="#00bb00"/>
<text transform="translate(255.42,470.77) scale(0.855,1.000)" font-size="8.80" font-weight="bold" fill="#111" stroke="#111" stroke-width="0.25" stroke-linejoin="round"><tspan>C</tspan><tspan font-size="5.98" dy="3.34">77</tspan><tspan dy="-3.34">H</tspan><tspan font-size="5.98" dy="3.34">152</tspan><tspan dy="-3.34">O</tspan><tspan font-size="5.98" dy="3.34">4</tspan><tspan dy="-3.34">(0,1)</tspan></text>
<path d="M244.00 480.60H253.00" stroke="#b000f0" stroke-width="1.5"/>
<polygon points="248.50,483.48 251.38,478.44 245.62,478.44" fill="#b000f0"/>
<text transform="translate(255.84,483.57) scale(0.855,1.000)" font-size="8.80" font-weight="bold" fill="#111" stroke="#111" stroke-width="0.25" stroke-linejoin="round"><tspan>C</tspan><tspan font-size="5.98" dy="3.34">80</tspan><tspan dy="-3.34">H</tspan><tspan font-size="5.98" dy="3.34">158</tspan><tspan dy="-3.34">O</tspan><tspan font-size="5.98" dy="3.34">4</tspan><tspan dy="-3.34">(0,1)</tspan></text>
<path d="M244.00 494.80H253.00" stroke="#ff8000" stroke-width="1.5"/>
<polygon points="248.50,492.43 250.88,494.80 248.50,497.18 246.12,494.80" fill="#ff8000"/>
<text transform="translate(256.25,497.77) scale(0.855,1.000)" font-size="8.80" font-weight="bold" fill="#111" stroke="#111" stroke-width="0.25" stroke-linejoin="round"><tspan>C</tspan><tspan font-size="5.98" dy="3.34">83</tspan><tspan dy="-3.34">H</tspan><tspan font-size="5.98" dy="3.34">164</tspan><tspan dy="-3.34">O</tspan><tspan font-size="5.98" dy="3.34">4</tspan><tspan dy="-3.34">(0,1)</tspan></text>
<path d="M244.00 509.60H253.00" stroke="#000000" stroke-width="1.5"/>
<circle cx="248.50" cy="509.60" r="3.50" fill="#000000"/>
<text transform="translate(256.66,512.57) scale(0.855,1.000)" font-size="8.80" font-weight="bold" fill="#111" stroke="#111" stroke-width="0.25" stroke-linejoin="round"><tspan>C</tspan><tspan font-size="5.98" dy="3.34">85</tspan><tspan dy="-3.34">H</tspan><tspan font-size="5.98" dy="3.34">168</tspan><tspan dy="-3.34">O</tspan><tspan font-size="5.98" dy="3.34">4</tspan><tspan dy="-3.34">(0,1)</tspan></text>
<path d="M244.00 523.80H253.00" stroke="#9b6a2a" stroke-width="1.5"/>
<rect x="245.20" y="520.50" width="6.60" height="6.60" fill="#9b6a2a"/>
<text transform="translate(257.07,526.77) scale(0.855,1.000)" font-size="8.80" font-weight="bold" fill="#111" stroke="#111" stroke-width="0.25" stroke-linejoin="round"><tspan>C</tspan><tspan font-size="5.98" dy="3.34">87</tspan><tspan dy="-3.34">H</tspan><tspan font-size="5.98" dy="3.34">172</tspan><tspan dy="-3.34">O</tspan><tspan font-size="5.98" dy="3.34">2</tspan><tspan dy="-3.34">(0,1)</tspan></text>
<path d="M244.00 538.00H253.00" stroke="#000080" stroke-width="1.5"/>
<polygon points="248.50,534.21 252.29,540.85 244.71,540.85" fill="#000080"/>
<text transform="translate(257.49,540.97) scale(0.855,1.000)" font-size="8.80" font-weight="bold" fill="#111" stroke="#111" stroke-width="0.25" stroke-linejoin="round"><tspan>C</tspan><tspan font-size="5.98" dy="3.34">88</tspan><tspan dy="-3.34">H</tspan><tspan font-size="5.98" dy="3.34">174</tspan><tspan dy="-3.34">O</tspan><tspan font-size="5.98" dy="3.34">4</tspan><tspan dy="-3.34">(0,1)</tspan></text>
<path d="M244.00 552.10H253.00" stroke="#600060" stroke-width="1.5"/>
<polygon points="248.50,556.01 252.41,549.17 244.59,549.17" fill="#600060"/>
<text transform="translate(257.90,555.07) scale(0.855,1.000)" font-size="8.80" font-weight="bold" fill="#111" stroke="#111" stroke-width="0.25" stroke-linejoin="round"><tspan>C</tspan><tspan font-size="5.98" dy="3.34">91</tspan><tspan dy="-3.34">H</tspan><tspan font-size="5.98" dy="3.34">180</tspan><tspan dy="-3.34">O</tspan><tspan font-size="5.98" dy="3.34">4</tspan><tspan dy="-3.34">(0)</tspan></text>
<text transform="translate(366.30,442.80)" font-size="14.60" font-weight="bold" fill="#000">f</text>
<path d="M413.40 442.30V578.30H593.60" fill="none" stroke="#d8d8d8" stroke-width="1.3"/>
<path d="M410.90 578.30H413.40" stroke="#d8d8d8" stroke-width="1.04"/>
<text transform="translate(408.90,581.46) scale(1.000,1.300)" font-size="7.40" font-weight="bold" fill="#1a1a1a" text-anchor="end" stroke="#1a1a1a" stroke-width="0.25" stroke-linejoin="round">0</text>
<path d="M410.90 551.20H413.40" stroke="#d8d8d8" stroke-width="1.04"/>
<text transform="translate(410.40,554.36) scale(1.000,1.300)" font-size="7.40" font-weight="bold" fill="#1a1a1a" text-anchor="end" stroke="#1a1a1a" stroke-width="0.25" stroke-linejoin="round">10000</text>
<path d="M410.90 524.10H413.40" stroke="#d8d8d8" stroke-width="1.04"/>
<text transform="translate(410.40,527.26) scale(1.000,1.300)" font-size="7.40" font-weight="bold" fill="#1a1a1a" text-anchor="end" stroke="#1a1a1a" stroke-width="0.25" stroke-linejoin="round">20000</text>
<path d="M410.90 497.00H413.40" stroke="#d8d8d8" stroke-width="1.04"/>
<text transform="translate(410.40,500.16) scale(1.000,1.300)" font-size="7.40" font-weight="bold" fill="#1a1a1a" text-anchor="end" stroke="#1a1a1a" stroke-width="0.25" stroke-linejoin="round">30000</text>
<path d="M410.90 469.90H413.40" stroke="#d8d8d8" stroke-width="1.04"/>
<text transform="translate(410.40,473.06) scale(1.000,1.300)" font-size="7.40" font-weight="bold" fill="#1a1a1a" text-anchor="end" stroke="#1a1a1a" stroke-width="0.25" stroke-linejoin="round">40000</text>
<path d="M410.90 442.80H413.40" stroke="#d8d8d8" stroke-width="1.04"/>
<text transform="translate(410.40,445.96) scale(1.000,1.300)" font-size="7.40" font-weight="bold" fill="#1a1a1a" text-anchor="end" stroke="#1a1a1a" stroke-width="0.25" stroke-linejoin="round">50000</text>
<path d="M429.10 578.30V580.80" stroke="#d8d8d8" stroke-width="1.04"/>
<text transform="translate(432.60,585.80) rotate(-48)" font-size="7.60" font-weight="bold" fill="#111" text-anchor="end" stroke="#111" stroke-width="0.25" stroke-linejoin="round">Normoxia</text>
<path d="M459.12 578.30V580.80" stroke="#d8d8d8" stroke-width="1.04"/>
<text transform="translate(462.62,585.80) rotate(-48)" font-size="7.60" font-weight="bold" fill="#111" text-anchor="end" stroke="#111" stroke-width="0.25" stroke-linejoin="round">Dormancy</text>
<path d="M489.14 578.30V580.80" stroke="#d8d8d8" stroke-width="1.04"/>
<text transform="translate(492.64,585.80) rotate(-48)" font-size="7.60" font-weight="bold" fill="#111" text-anchor="end" stroke="#111" stroke-width="0.25" stroke-linejoin="round">R24</text>
<path d="M519.16 578.30V580.80" stroke="#d8d8d8" stroke-width="1.04"/>
<text transform="translate(522.66,585.80) rotate(-48)" font-size="7.60" font-weight="bold" fill="#111" text-anchor="end" stroke="#111" stroke-width="0.25" stroke-linejoin="round">R48</text>
<path d="M549.18 578.30V580.80" stroke="#d8d8d8" stroke-width="1.04"/>
<text transform="translate(552.68,585.80) rotate(-48)" font-size="7.60" font-weight="bold" fill="#111" text-anchor="end" stroke="#111" stroke-width="0.25" stroke-linejoin="round">R72</text>
<path d="M579.20 578.30V580.80" stroke="#d8d8d8" stroke-width="1.04"/>
<text transform="translate(582.70,585.80) rotate(-48)" font-size="7.60" font-weight="bold" fill="#111" text-anchor="end" stroke="#111" stroke-width="0.25" stroke-linejoin="round">R144</text>
<text transform="translate(384.50,503.70) rotate(-90)" font-size="8.50" font-weight="bold" fill="#111" text-anchor="middle" stroke="#111" stroke-width="0.25" stroke-linejoin="round">Intensity</text>
<path d="M459.12 461.23V518.14M457.52 461.23H460.72M457.52 518.14H460.72" stroke="#bbbbbb" stroke-width="0.8" fill="none"/>
<path d="M489.14 528.44V531.69M487.54 528.44H490.74M487.54 531.69H490.74" stroke="#bbbbbb" stroke-width="0.8" fill="none"/>
<path d="M489.14 554.72V562.85M487.54 554.72H490.74M487.54 562.85H490.74" stroke="#bbbbbb" stroke-width="0.8" fill="none"/>
<path d="M429.10 534.67V537.38M427.50 534.67H430.70M427.50 537.38H430.70" stroke="#bbbbbb" stroke-width="0.8" fill="none"/>
<path d="M459.12 536.29V547.13M457.52 536.29H460.72M457.52 547.13H460.72" stroke="#bbbbbb" stroke-width="0.8" fill="none"/>
<path d="M549.18 545.78V553.91M547.58 545.78H550.78M547.58 553.91H550.78" stroke="#bbbbbb" stroke-width="0.8" fill="none"/>
<path d="M579.20 533.58V547.13M577.60 533.58H580.80M577.60 547.13H580.80" stroke="#bbbbbb" stroke-width="0.8" fill="none"/>
<polyline points="429.10,549.03 459.12,577.49 489.14,577.22 519.16,576.94 549.18,566.10 579.20,540.36" fill="none" stroke="#ffff00" stroke-width="1.6" stroke-linejoin="round"/>
<polyline points="429.10,536.02 459.12,541.71 489.14,552.83 519.16,566.10 549.18,549.84 579.20,544.42" fill="none" stroke="#606060" stroke-width="1.6" stroke-linejoin="round"/>
<polyline points="429.10,572.88 459.12,575.59 489.14,558.79 519.16,572.88 549.18,572.88 579.20,572.88" fill="none" stroke="#c0c0ff" stroke-width="1.6" stroke-linejoin="round"/>
<polyline points="429.10,572.88 459.12,576.94 489.14,574.23 519.16,574.23 549.18,574.23 579.20,572.88" fill="none" stroke="#90c8ff" stroke-width="1.6" stroke-linejoin="round"/>
<polyline points="429.10,570.17 459.12,576.94 489.14,575.59 519.16,570.17 549.18,568.81 579.20,570.17" fill="none" stroke="#00ff00" stroke-width="1.6" stroke-linejoin="round"/>
<polyline points="429.10,572.88 459.12,575.59 489.14,574.23 519.16,572.88 549.18,572.88 579.20,572.88" fill="none" stroke="#ffc896" stroke-width="1.2" stroke-linejoin="round"/>
<polyline points="429.10,575.59 459.12,575.59 489.14,574.23 519.16,574.23 549.18,572.88 579.20,572.88" fill="none" stroke="#006633" stroke-width="1.6" stroke-linejoin="round"/>
<polyline points="429.10,568.81 459.12,576.94 489.14,575.59 519.16,575.59 549.18,571.52 579.20,574.23" fill="none" stroke="#990000" stroke-width="1.6" stroke-linejoin="round"/>
<polyline points="429.10,543.07 459.12,575.59 489.14,572.88 519.16,559.33 549.18,548.49 579.20,545.78" fill="none" stroke="#600060" stroke-width="1.6" stroke-linejoin="round"/>
<polyline points="429.10,572.88 459.12,578.03 489.14,575.59 519.16,575.59 549.18,574.23 579.20,572.88" fill="none" stroke="#000080" stroke-width="1.6" stroke-linejoin="round"/>
<polyline points="429.10,570.17 459.12,575.59 489.14,575.59 519.16,566.65 549.18,570.17 579.20,572.88" fill="none" stroke="#9b6a2a" stroke-width="1.6" stroke-linejoin="round"/>
<polyline points="429.10,576.94 459.12,571.52 489.14,572.07 519.16,572.88 549.18,574.23 579.20,575.59" fill="none" stroke="#000000" stroke-width="1.6" stroke-linejoin="round"/>
<polyline points="429.10,572.34 459.12,489.68 489.14,530.06 519.16,572.88 549.18,568.81 579.20,572.88" fill="none" stroke="#ff8000" stroke-width="1.6" stroke-linejoin="round"/>
<polyline points="429.10,558.79 459.12,576.94 489.14,574.23 519.16,572.88 549.18,556.89 579.20,556.35" fill="none" stroke="#b000f0" stroke-width="1.6" stroke-linejoin="round"/>
<polyline points="429.10,568.81 459.12,575.59 489.14,574.23 519.16,571.52 549.18,570.17 579.20,570.17" fill="none" stroke="#00bb00" stroke-width="1.6" stroke-linejoin="round"/>
<polyline points="429.10,565.29 459.12,577.49 489.14,576.94 519.16,576.94 549.18,568.81 579.20,572.88" fill="none" stroke="#ff0000" stroke-width="1.6" stroke-linejoin="round"/>
<circle cx="429.10" cy="549.03" r="3.00" fill="#ffff00"/>
<circle cx="459.12" cy="577.49" r="3.00" fill="#ffff00"/>
<circle cx="489.14" cy="577.22" r="3.00" fill="#ffff00"/>
<circle cx="519.16" cy="576.94" r="3.00" fill="#ffff00"/>
<circle cx="549.18" cy="566.10" r="3.00" fill="#ffff00"/>
<circle cx="579.20" cy="540.36" r="3.00" fill="#ffff00"/>
<rect x="426.30" y="533.22" width="5.60" height="5.60" fill="#606060"/>
<rect x="456.32" y="538.91" width="5.60" height="5.60" fill="#606060"/>
<rect x="486.34" y="550.03" width="5.60" height="5.60" fill="#606060"/>
<rect x="516.36" y="563.30" width="5.60" height="5.60" fill="#606060"/>
<rect x="546.38" y="547.04" width="5.60" height="5.60" fill="#606060"/>
<rect x="576.40" y="541.62" width="5.60" height="5.60" fill="#606060"/>
<circle cx="429.10" cy="572.88" r="2.60" fill="#c0c0ff"/>
<circle cx="459.12" cy="575.59" r="2.60" fill="#c0c0ff"/>
<circle cx="489.14" cy="558.79" r="2.60" fill="#c0c0ff"/>
<circle cx="519.16" cy="572.88" r="2.60" fill="#c0c0ff"/>
<circle cx="549.18" cy="572.88" r="2.60" fill="#c0c0ff"/>
<circle cx="579.20" cy="572.88" r="2.60" fill="#c0c0ff"/>
<path d="M427.10 572.88H431.10M429.10 570.88V574.88M427.60 571.38L430.60 574.38M427.60 574.38L430.60 571.38" stroke="#90c8ff" stroke-width="0.90"/>
<path d="M457.12 576.94H461.12M459.12 574.94V578.94M457.62 575.44L460.62 578.44M457.62 578.44L460.62 575.44" stroke="#90c8ff" stroke-width="0.90"/>
<path d="M487.14 574.23H491.14M489.14 572.23V576.23M487.64 572.73L490.64 575.73M487.64 575.73L490.64 572.73" stroke="#90c8ff" stroke-width="0.90"/>
<path d="M517.16 574.23H521.16M519.16 572.23V576.23M517.66 572.73L520.66 575.73M517.66 575.73L520.66 572.73" stroke="#90c8ff" stroke-width="0.90"/>
<path d="M547.18 574.23H551.18M549.18 572.23V576.23M547.68 572.73L550.68 575.73M547.68 575.73L550.68 572.73" stroke="#90c8ff" stroke-width="0.90"/>
<path d="M577.20 572.88H581.20M579.20 570.88V574.88M577.70 571.38L580.70 574.38M577.70 574.38L580.70 571.38" stroke="#90c8ff" stroke-width="0.90"/>
<path d="M427.10 570.17H431.10M429.10 568.17V572.17" stroke="#00ff00" stroke-width="1.20"/>
<path d="M457.12 576.94H461.12M459.12 574.94V578.94" stroke="#00ff00" stroke-width="1.20"/>
<path d="M487.14 575.59H491.14M489.14 573.59V577.59" stroke="#00ff00" stroke-width="1.20"/>
<path d="M517.16 570.17H521.16M519.16 568.17V572.17" stroke="#00ff00" stroke-width="1.20"/>
<path d="M547.18 568.81H551.18M549.18 566.81V570.81" stroke="#00ff00" stroke-width="1.20"/>
<path d="M577.20 570.17H581.20M579.20 568.17V572.17" stroke="#00ff00" stroke-width="1.20"/>
<path d="M427.50 572.88H430.70M429.10 571.28V574.48" stroke="#ffc896" stroke-width="1.00"/>
<path d="M457.52 575.59H460.72M459.12 573.99V577.19" stroke="#ffc896" stroke-width="1.00"/>
<path d="M487.54 574.23H490.74M489.14 572.63V575.83" stroke="#ffc896" stroke-width="1.00"/>
<path d="M517.56 572.88H520.76M519.16 571.28V574.48" stroke="#ffc896" stroke-width="1.00"/>
<path d="M547.58 572.88H550.78M549.18 571.28V574.48" stroke="#ffc896" stroke-width="1.00"/>
<path d="M577.60 572.88H580.80M579.20 571.28V574.48" stroke="#ffc896" stroke-width="1.00"/>
<circle cx="429.10" cy="575.59" r="2.20" fill="#006633"/>
<circle cx="459.12" cy="575.59" r="2.20" fill="#006633"/>
<circle cx="489.14" cy="574.23" r="2.20" fill="#006633"/>
<circle cx="519.16" cy="574.23" r="2.20" fill="#006633"/>
<circle cx="549.18" cy="572.88" r="2.20" fill="#006633"/>
<circle cx="579.20" cy="572.88" r="2.20" fill="#006633"/>
<polygon points="429.10,566.06 431.85,568.81 429.10,571.56 426.35,568.81" fill="#990000"/>
<polygon points="459.12,574.19 461.87,576.94 459.12,579.69 456.37,576.94" fill="#990000"/>
<polygon points="489.14,572.84 491.89,575.59 489.14,578.34 486.39,575.59" fill="#990000"/>
<polygon points="519.16,572.84 521.91,575.59 519.16,578.34 516.41,575.59" fill="#990000"/>
<polygon points="549.18,568.77 551.93,571.52 549.18,574.27 546.43,571.52" fill="#990000"/>
<polygon points="579.20,571.48 581.95,574.23 579.20,576.98 576.45,574.23" fill="#990000"/>
<polygon points="429.10,546.29 432.32,540.65 425.88,540.65" fill="#600060"/>
<polygon points="459.12,578.81 462.34,573.17 455.90,573.17" fill="#600060"/>
<polygon points="489.14,576.10 492.36,570.47 485.92,570.47" fill="#600060"/>
<polygon points="519.16,562.55 522.38,556.91 515.94,556.91" fill="#600060"/>
<polygon points="549.18,551.71 552.40,546.08 545.96,546.08" fill="#600060"/>
<polygon points="579.20,549.00 582.42,543.37 575.98,543.37" fill="#600060"/>
<polygon points="429.10,569.89 432.09,575.12 426.11,575.12" fill="#000080"/>
<polygon points="459.12,575.04 462.11,580.27 456.13,580.27" fill="#000080"/>
<polygon points="489.14,572.60 492.13,577.83 486.15,577.83" fill="#000080"/>
<polygon points="519.16,572.60 522.15,577.83 516.17,577.83" fill="#000080"/>
<polygon points="549.18,571.24 552.17,576.48 546.19,576.48" fill="#000080"/>
<polygon points="579.20,569.89 582.19,575.12 576.21,575.12" fill="#000080"/>
<rect x="426.50" y="567.57" width="5.20" height="5.20" fill="#9b6a2a"/>
<rect x="456.52" y="572.99" width="5.20" height="5.20" fill="#9b6a2a"/>
<rect x="486.54" y="572.99" width="5.20" height="5.20" fill="#9b6a2a"/>
<rect x="516.56" y="564.05" width="5.20" height="5.20" fill="#9b6a2a"/>
<rect x="546.58" y="567.57" width="5.20" height="5.20" fill="#9b6a2a"/>
<rect x="576.60" y="570.28" width="5.20" height="5.20" fill="#9b6a2a"/>
<circle cx="429.10" cy="576.94" r="2.80" fill="#000000"/>
<circle cx="459.12" cy="571.52" r="2.80" fill="#000000"/>
<circle cx="489.14" cy="572.07" r="2.80" fill="#000000"/>
<circle cx="519.16" cy="572.88" r="2.80" fill="#000000"/>
<circle cx="549.18" cy="574.23" r="2.80" fill="#000000"/>
<circle cx="579.20" cy="575.59" r="2.80" fill="#000000"/>
<polygon points="429.10,569.96 431.48,572.34 429.10,574.71 426.73,572.34" fill="#ff8000"/>
<polygon points="459.12,487.31 461.50,489.68 459.12,492.06 456.75,489.68" fill="#ff8000"/>
<polygon points="489.14,527.69 491.52,530.06 489.14,532.44 486.77,530.06" fill="#ff8000"/>
<polygon points="519.16,570.50 521.54,572.88 519.16,575.25 516.79,572.88" fill="#ff8000"/>
<polygon points="549.18,566.44 551.56,568.81 549.18,571.19 546.81,568.81" fill="#ff8000"/>
<polygon points="579.20,570.50 581.58,572.88 579.20,575.25 576.83,572.88" fill="#ff8000"/>
<polygon points="429.10,561.55 431.86,556.72 426.34,556.72" fill="#b000f0"/>
<polygon points="459.12,579.70 461.88,574.87 456.36,574.87" fill="#b000f0"/>
<polygon points="489.14,576.99 491.90,572.16 486.38,572.16" fill="#b000f0"/>
<polygon points="519.16,575.64 521.92,570.81 516.40,570.81" fill="#b000f0"/>
<polygon points="549.18,559.65 551.94,554.82 546.42,554.82" fill="#b000f0"/>
<polygon points="579.20,559.11 581.96,554.28 576.44,554.28" fill="#b000f0"/>
<polygon points="429.10,566.28 431.63,570.71 426.57,570.71" fill="#00bb00"/>
<polygon points="459.12,573.06 461.65,577.49 456.59,577.49" fill="#00bb00"/>
<polygon points="489.14,571.70 491.67,576.13 486.61,576.13" fill="#00bb00"/>
<polygon points="519.16,569.00 521.69,573.42 516.63,573.42" fill="#00bb00"/>
<polygon points="549.18,567.64 551.71,572.07 546.65,572.07" fill="#00bb00"/>
<polygon points="579.20,567.64 581.73,572.07 576.67,572.07" fill="#00bb00"/>
<rect x="426.70" y="562.89" width="4.80" height="4.80" fill="#ff0000"/>
<rect x="456.72" y="575.09" width="4.80" height="4.80" fill="#ff0000"/>
<rect x="486.74" y="574.54" width="4.80" height="4.80" fill="#ff0000"/>
<rect x="516.76" y="574.54" width="4.80" height="4.80" fill="#ff0000"/>
<rect x="546.78" y="566.41" width="4.80" height="4.80" fill="#ff0000"/>
<rect x="576.80" y="570.48" width="4.80" height="4.80" fill="#ff0000"/>
<path d="M617.40 390.00H627.00" stroke="#ff0000" stroke-width="1.5"/>
<rect x="619.60" y="387.40" width="5.20" height="5.20" fill="#ff0000"/>
<text transform="translate(628.60,392.75) scale(0.865,1.000)" font-size="8.20" font-weight="bold" fill="#111" stroke="#111" stroke-width="0.25" stroke-linejoin="round"><tspan>C</tspan><tspan font-size="5.58" dy="3.12">73</tspan><tspan dy="-3.12">H</tspan><tspan font-size="5.58" dy="3.12">146</tspan><tspan dy="-3.12">O</tspan><tspan font-size="5.58" dy="3.12">4</tspan><tspan dy="-3.12">(2)</tspan></text>
<path d="M617.40 402.20H627.00" stroke="#00bb00" stroke-width="1.5"/>
<polygon points="622.20,399.21 625.19,404.44 619.21,404.44" fill="#00bb00"/>
<text transform="translate(629.03,404.95) scale(0.865,1.000)" font-size="8.20" font-weight="bold" fill="#111" stroke="#111" stroke-width="0.25" stroke-linejoin="round"><tspan>C</tspan><tspan font-size="5.58" dy="3.12">73</tspan><tspan dy="-3.12">H</tspan><tspan font-size="5.58" dy="3.12">150</tspan><tspan dy="-3.12">O</tspan><tspan font-size="5.58" dy="3.12">4</tspan><tspan dy="-3.12">(0)</tspan></text>
<path d="M617.40 414.30H627.00" stroke="#b000f0" stroke-width="1.5"/>
<polygon points="622.20,417.29 625.19,412.06 619.21,412.06" fill="#b000f0"/>
<text transform="translate(629.45,417.05) scale(0.865,1.000)" font-size="8.20" font-weight="bold" fill="#111" stroke="#111" stroke-width="0.25" stroke-linejoin="round"><tspan>C</tspan><tspan font-size="5.58" dy="3.12">74</tspan><tspan dy="-3.12">H</tspan><tspan font-size="5.58" dy="3.12">144</tspan><tspan dy="-3.12">O</tspan><tspan font-size="5.58" dy="3.12">4</tspan><tspan dy="-3.12">(0)</tspan></text>
<path d="M617.40 426.50H627.00" stroke="#ff8000" stroke-width="1.5"/>
<polygon points="622.20,423.25 625.45,426.50 622.20,429.75 618.95,426.50" fill="#ff8000"/>
<text transform="translate(629.88,429.25) scale(0.865,1.000)" font-size="8.20" font-weight="bold" fill="#111" stroke="#111" stroke-width="0.25" stroke-linejoin="round"><tspan>C</tspan><tspan font-size="5.58" dy="3.12">75</tspan><tspan dy="-3.12">H</tspan><tspan font-size="5.58" dy="3.12">152</tspan><tspan dy="-3.12">O</tspan><tspan font-size="5.58" dy="3.12">4</tspan><tspan dy="-3.12">(0)</tspan></text>
<path d="M617.40 438.50H627.00" stroke="#000000" stroke-width="1.5"/>
<circle cx="622.20" cy="438.50" r="3.60" fill="#000000"/>
<text transform="translate(630.31,441.25) scale(0.865,1.000)" font-size="8.20" font-weight="bold" fill="#111" stroke="#111" stroke-width="0.25" stroke-linejoin="round"><tspan>C</tspan><tspan font-size="5.58" dy="3.12">77</tspan><tspan dy="-3.12">H</tspan><tspan font-size="5.58" dy="3.12">152</tspan><tspan dy="-3.12">O</tspan><tspan font-size="5.58" dy="3.12">3</tspan><tspan dy="-3.12">(2)</tspan></text>
<path d="M617.40 450.50H627.00" stroke="#9b6a2a" stroke-width="1.5"/>
<rect x="618.80" y="447.10" width="6.80" height="6.80" fill="#9b6a2a"/>
<text transform="translate(630.73,453.25) scale(0.865,1.000)" font-size="8.20" font-weight="bold" fill="#111" stroke="#111" stroke-width="0.25" stroke-linejoin="round"><tspan>C</tspan><tspan font-size="5.58" dy="3.12">77</tspan><tspan dy="-3.12">H</tspan><tspan font-size="5.58" dy="3.12">152</tspan><tspan dy="-3.12">O</tspan><tspan font-size="5.58" dy="3.12">4</tspan><tspan dy="-3.12">(2)</tspan></text>
<path d="M617.40 462.20H627.00" stroke="#000080" stroke-width="1.5"/>
<polygon points="622.20,458.29 626.11,465.13 618.29,465.13" fill="#000080"/>
<text transform="translate(631.16,464.95) scale(0.865,1.000)" font-size="8.20" font-weight="bold" fill="#111" stroke="#111" stroke-width="0.25" stroke-linejoin="round"><tspan>C</tspan><tspan font-size="5.58" dy="3.12">78</tspan><tspan dy="-3.12">H</tspan><tspan font-size="5.58" dy="3.12">158</tspan><tspan dy="-3.12">O</tspan><tspan font-size="5.58" dy="3.12">4</tspan><tspan dy="-3.12">(0,2)</tspan></text>
<path d="M617.40 474.20H627.00" stroke="#600060" stroke-width="1.5"/>
<polygon points="622.20,478.22 626.23,471.18 618.18,471.18" fill="#600060"/>
<text transform="translate(631.59,476.95) scale(0.865,1.000)" font-size="8.20" font-weight="bold" fill="#111" stroke="#111" stroke-width="0.25" stroke-linejoin="round"><tspan>C</tspan><tspan font-size="5.58" dy="3.12">80</tspan><tspan dy="-3.12">H</tspan><tspan font-size="5.58" dy="3.12">156</tspan><tspan dy="-3.12">O</tspan><tspan font-size="5.58" dy="3.12">4</tspan><tspan dy="-3.12">(0,1,2)</tspan></text>
<path d="M617.40 486.40H627.00" stroke="#990000" stroke-width="1.5"/>
<polygon points="622.20,482.65 625.95,486.40 622.20,490.15 618.45,486.40" fill="#990000"/>
<text transform="translate(632.01,489.15) scale(0.865,1.000)" font-size="8.20" font-weight="bold" fill="#111" stroke="#111" stroke-width="0.25" stroke-linejoin="round"><tspan>C</tspan><tspan font-size="5.58" dy="3.12">83</tspan><tspan dy="-3.12">H</tspan><tspan font-size="5.58" dy="3.12">158</tspan><tspan dy="-3.12">O</tspan><tspan font-size="5.58" dy="3.12">4</tspan><tspan dy="-3.12">(2)</tspan></text>
<path d="M617.40 499.10H627.00" stroke="#006633" stroke-width="1.5"/>
<circle cx="622.20" cy="499.10" r="2.60" fill="#006633"/>
<text transform="translate(632.44,501.85) scale(0.865,1.000)" font-size="8.20" font-weight="bold" fill="#111" stroke="#111" stroke-width="0.25" stroke-linejoin="round"><tspan>C</tspan><tspan font-size="5.58" dy="3.12">83</tspan><tspan dy="-3.12">H</tspan><tspan font-size="5.58" dy="3.12">162</tspan><tspan dy="-3.12">O</tspan><tspan font-size="5.58" dy="3.12">4</tspan><tspan dy="-3.12">(1)</tspan></text>
<path d="M617.40 510.90H627.00" stroke="#ffc896" stroke-width="1.5"/>
<path d="M619.60 510.90H624.80M622.20 508.30V513.50" stroke="#ffc896" stroke-width="1.56"/>
<text transform="translate(632.87,513.65) scale(0.865,1.000)" font-size="8.20" font-weight="bold" fill="#111" stroke="#111" stroke-width="0.25" stroke-linejoin="round"><tspan>C</tspan><tspan font-size="5.58" dy="3.12">84</tspan><tspan dy="-3.12">H</tspan><tspan font-size="5.58" dy="3.12">164</tspan><tspan dy="-3.12">O</tspan><tspan font-size="5.58" dy="3.12">4</tspan><tspan dy="-3.12">(0,2)</tspan></text>
<path d="M617.40 523.40H627.00" stroke="#00ff00" stroke-width="1.5"/>
<path d="M619.60 523.40H624.80M622.20 520.80V526.00" stroke="#00ff00" stroke-width="1.56"/>
<text transform="translate(633.29,526.15) scale(0.865,1.000)" font-size="8.20" font-weight="bold" fill="#111" stroke="#111" stroke-width="0.25" stroke-linejoin="round"><tspan>C</tspan><tspan font-size="5.58" dy="3.12">85</tspan><tspan dy="-3.12">H</tspan><tspan font-size="5.58" dy="3.12">166</tspan><tspan dy="-3.12">O</tspan><tspan font-size="5.58" dy="3.12">4</tspan><tspan dy="-3.12">(2)</tspan></text>
<path d="M617.40 535.20H627.00" stroke="#90c8ff" stroke-width="1.5"/>
<path d="M619.60 535.20H624.80M622.20 532.60V537.80M620.25 533.25L624.15 537.15M620.25 537.15L624.15 533.25" stroke="#90c8ff" stroke-width="1.17"/>
<text transform="translate(633.72,537.95) scale(0.865,1.000)" font-size="8.20" font-weight="bold" fill="#111" stroke="#111" stroke-width="0.25" stroke-linejoin="round"><tspan>C</tspan><tspan font-size="5.58" dy="3.12">87</tspan><tspan dy="-3.12">H</tspan><tspan font-size="5.58" dy="3.12">162</tspan><tspan dy="-3.12">O</tspan><tspan font-size="5.58" dy="3.12">4</tspan><tspan dy="-3.12">(2)</tspan></text>
<path d="M617.40 547.70H627.00" stroke="#c0c0ff" stroke-width="1.5"/>
<circle cx="622.20" cy="547.70" r="3.30" fill="#c0c0ff"/>
<text transform="translate(634.15,550.45) scale(0.865,1.000)" font-size="8.20" font-weight="bold" fill="#111" stroke="#111" stroke-width="0.25" stroke-linejoin="round"><tspan>C</tspan><tspan font-size="5.58" dy="3.12">87</tspan><tspan dy="-3.12">H</tspan><tspan font-size="5.58" dy="3.12">170</tspan><tspan dy="-3.12">O</tspan><tspan font-size="5.58" dy="3.12">4</tspan><tspan dy="-3.12">(1)</tspan></text>
<path d="M617.40 559.50H627.00" stroke="#606060" stroke-width="1.5"/>
<rect x="618.90" y="556.20" width="6.60" height="6.60" fill="#606060"/>
<text transform="translate(634.57,562.25) scale(0.865,1.000)" font-size="8.20" font-weight="bold" fill="#111" stroke="#111" stroke-width="0.25" stroke-linejoin="round"><tspan>C</tspan><tspan font-size="5.58" dy="3.12">88</tspan><tspan dy="-3.12">H</tspan><tspan font-size="5.58" dy="3.12">164</tspan><tspan dy="-3.12">O</tspan><tspan font-size="5.58" dy="3.12">4</tspan><tspan dy="-3.12">(1)</tspan></text>
<path d="M617.40 570.50H627.00" stroke="#ffff00" stroke-width="1.5"/>
<circle cx="622.20" cy="570.50" r="3.50" fill="#ffff00"/>
<text transform="translate(635.00,573.25) scale(0.865,1.000)" font-size="8.20" font-weight="bold" fill="#111" stroke="#111" stroke-width="0.25" stroke-linejoin="round"><tspan>C</tspan><tspan font-size="5.58" dy="3.12">89</tspan><tspan dy="-3.12">H</tspan><tspan font-size="5.58" dy="3.12">166</tspan><tspan dy="-3.12">O</tspan><tspan font-size="5.58" dy="3.12">4</tspan><tspan dy="-3.12">(0)</tspan></text>
<text transform="translate(13.80,650.00)" font-size="14.60" font-weight="bold" fill="#000">g</text>
<path d="M58.70 645.30V763.00H230.30" fill="none" stroke="#d8d8d8" stroke-width="1.3"/>
<path d="M56.20 763.00H58.70" stroke="#d8d8d8" stroke-width="1.04"/>
<text transform="translate(55.70,766.33) scale(1.000,1.250)" font-size="8.50" font-weight="bold" fill="#1a1a1a" text-anchor="end" stroke="#1a1a1a" stroke-width="0.25" stroke-linejoin="round">0</text>
<path d="M56.20 733.70H58.70" stroke="#d8d8d8" stroke-width="1.04"/>
<text transform="translate(55.70,737.03) scale(1.000,1.250)" font-size="8.50" font-weight="bold" fill="#1a1a1a" text-anchor="end" stroke="#1a1a1a" stroke-width="0.25" stroke-linejoin="round">5000</text>
<path d="M56.20 704.40H58.70" stroke="#d8d8d8" stroke-width="1.04"/>
<text transform="translate(55.70,707.73) scale(1.000,1.250)" font-size="8.50" font-weight="bold" fill="#1a1a1a" text-anchor="end" stroke="#1a1a1a" stroke-width="0.25" stroke-linejoin="round">10000</text>
<path d="M56.20 675.10H58.70" stroke="#d8d8d8" stroke-width="1.04"/>
<text transform="translate(55.70,678.42) scale(1.000,1.250)" font-size="8.50" font-weight="bold" fill="#1a1a1a" text-anchor="end" stroke="#1a1a1a" stroke-width="0.25" stroke-linejoin="round">15000</text>
<path d="M56.20 645.80H58.70" stroke="#d8d8d8" stroke-width="1.04"/>
<text transform="translate(55.70,649.12) scale(1.000,1.250)" font-size="8.50" font-weight="bold" fill="#1a1a1a" text-anchor="end" stroke="#1a1a1a" stroke-width="0.25" stroke-linejoin="round">20000</text>
<path d="M74.00 763.00V765.50" stroke="#d8d8d8" stroke-width="1.04"/>
<text transform="translate(75.50,769.80) rotate(-38)" font-size="8.40" font-weight="bold" fill="#111" text-anchor="end" stroke="#111" stroke-width="0.25" stroke-linejoin="round">Normoxia</text>
<path d="M104.00 763.00V765.50" stroke="#d8d8d8" stroke-width="1.04"/>
<text transform="translate(105.50,769.80) rotate(-38)" font-size="8.40" font-weight="bold" fill="#111" text-anchor="end" stroke="#111" stroke-width="0.25" stroke-linejoin="round">Dormancy</text>
<path d="M134.00 763.00V765.50" stroke="#d8d8d8" stroke-width="1.04"/>
<text transform="translate(135.50,769.80) rotate(-38)" font-size="8.40" font-weight="bold" fill="#111" text-anchor="end" stroke="#111" stroke-width="0.25" stroke-linejoin="round">R24</text>
<path d="M164.00 763.00V765.50" stroke="#d8d8d8" stroke-width="1.04"/>
<text transform="translate(165.50,769.80) rotate(-38)" font-size="8.40" font-weight="bold" fill="#111" text-anchor="end" stroke="#111" stroke-width="0.25" stroke-linejoin="round">R48</text>
<path d="M194.00 763.00V765.50" stroke="#d8d8d8" stroke-width="1.04"/>
<text transform="translate(195.50,769.80) rotate(-38)" font-size="8.40" font-weight="bold" fill="#111" text-anchor="end" stroke="#111" stroke-width="0.25" stroke-linejoin="round">R72</text>
<path d="M224.00 763.00V765.50" stroke="#d8d8d8" stroke-width="1.04"/>
<text transform="translate(225.50,769.80) rotate(-38)" font-size="8.40" font-weight="bold" fill="#111" text-anchor="end" stroke="#111" stroke-width="0.25" stroke-linejoin="round">R144</text>
<text transform="translate(25.20,694.20) rotate(-90)" font-size="8.70" font-weight="bold" fill="#111" text-anchor="middle" stroke="#111" stroke-width="0.25" stroke-linejoin="round">Intensity</text>
<path d="M74.00 653.71V697.66M72.40 653.71H75.60M72.40 697.66H75.60" stroke="#bbbbbb" stroke-width="0.8" fill="none"/>
<path d="M104.00 724.91V734.29M102.40 724.91H105.60M102.40 734.29H105.60" stroke="#bbbbbb" stroke-width="0.8" fill="none"/>
<path d="M134.00 725.50V727.84M132.40 725.50H135.60M132.40 727.84H135.60" stroke="#bbbbbb" stroke-width="0.8" fill="none"/>
<path d="M164.00 657.52V671.58M162.40 657.52H165.60M162.40 671.58H165.60" stroke="#bbbbbb" stroke-width="0.8" fill="none"/>
<path d="M224.00 746.59V755.97M222.40 746.59H225.60M222.40 755.97H225.60" stroke="#bbbbbb" stroke-width="0.8" fill="none"/>
<polyline points="74.00,675.69 104.00,729.60 134.00,726.67 164.00,664.55 194.00,746.59 224.00,751.28" fill="none" stroke="#0000ff" stroke-width="1.6" stroke-linejoin="round"/>
<circle cx="74.00" cy="675.69" r="2.50" fill="#0000ff"/>
<circle cx="104.00" cy="729.60" r="2.50" fill="#0000ff"/>
<circle cx="134.00" cy="726.67" r="2.50" fill="#0000ff"/>
<circle cx="164.00" cy="664.55" r="2.50" fill="#0000ff"/>
<circle cx="194.00" cy="746.59" r="2.50" fill="#0000ff"/>
<circle cx="224.00" cy="751.28" r="2.50" fill="#0000ff"/>
<path d="M216.20 701.30H225.00" stroke="#0000ff" stroke-width="1.5"/>
<circle cx="220.60" cy="701.30" r="2.20" fill="#0000ff"/>
<text transform="translate(226.80,704.40) scale(0.931,1.000)" font-size="8.60" font-weight="bold" fill="#111" stroke="#111" stroke-width="0.25" stroke-linejoin="round"><tspan>C</tspan><tspan font-size="5.85" dy="3.27">27</tspan><tspan dy="-3.27">H</tspan><tspan font-size="5.85" dy="3.27">50</tspan><tspan dy="-3.27">O</tspan><tspan font-size="5.85" dy="3.27">2</tspan><tspan dy="-3.27">(2)</tspan></text>
<text transform="translate(365.30,656.40)" font-size="14.60" font-weight="bold" fill="#000">h</text>
<path d="M410.50 633.50V764.00H566.60" fill="none" stroke="#d8d8d8" stroke-width="1.3"/>
<path d="M408.00 764.00H410.50" stroke="#d8d8d8" stroke-width="1.04"/>
<text transform="translate(405.10,768.92) scale(1.000,1.200)" font-size="9.30" font-weight="bold" fill="#1a1a1a" text-anchor="end" stroke="#1a1a1a" stroke-width="0.25" stroke-linejoin="round">0</text>
<path d="M408.00 738.00H410.50" stroke="#d8d8d8" stroke-width="1.04"/>
<text transform="translate(406.30,742.92) scale(1.000,1.200)" font-size="9.30" font-weight="bold" fill="#1a1a1a" text-anchor="end" stroke="#1a1a1a" stroke-width="0.25" stroke-linejoin="round">2000</text>
<path d="M408.00 712.00H410.50" stroke="#d8d8d8" stroke-width="1.04"/>
<text transform="translate(406.30,716.92) scale(1.000,1.200)" font-size="9.30" font-weight="bold" fill="#1a1a1a" text-anchor="end" stroke="#1a1a1a" stroke-width="0.25" stroke-linejoin="round">4000</text>
<path d="M408.00 686.00H410.50" stroke="#d8d8d8" stroke-width="1.04"/>
<text transform="translate(406.30,690.92) scale(1.000,1.200)" font-size="9.30" font-weight="bold" fill="#1a1a1a" text-anchor="end" stroke="#1a1a1a" stroke-width="0.25" stroke-linejoin="round">6000</text>
<path d="M408.00 660.00H410.50" stroke="#d8d8d8" stroke-width="1.04"/>
<text transform="translate(406.30,664.92) scale(1.000,1.200)" font-size="9.30" font-weight="bold" fill="#1a1a1a" text-anchor="end" stroke="#1a1a1a" stroke-width="0.25" stroke-linejoin="round">8000</text>
<path d="M408.00 634.00H410.50" stroke="#d8d8d8" stroke-width="1.04"/>
<text transform="translate(406.30,638.92) scale(1.000,1.200)" font-size="9.30" font-weight="bold" fill="#1a1a1a" text-anchor="end" stroke="#1a1a1a" stroke-width="0.25" stroke-linejoin="round">10000</text>
<path d="M423.60 764.00V766.50" stroke="#d8d8d8" stroke-width="1.04"/>
<text transform="translate(427.60,772.50) rotate(-44)" font-size="9.20" font-weight="bold" fill="#111" text-anchor="end" stroke="#111" stroke-width="0.25" stroke-linejoin="round">Normoxia</text>
<path d="M449.76 764.00V766.50" stroke="#d8d8d8" stroke-width="1.04"/>
<text transform="translate(453.76,772.50) rotate(-44)" font-size="9.20" font-weight="bold" fill="#111" text-anchor="end" stroke="#111" stroke-width="0.25" stroke-linejoin="round">Dormancy</text>
<path d="M475.92 764.00V766.50" stroke="#d8d8d8" stroke-width="1.04"/>
<text transform="translate(479.92,772.50) rotate(-44)" font-size="9.20" font-weight="bold" fill="#111" text-anchor="end" stroke="#111" stroke-width="0.25" stroke-linejoin="round">R24</text>
<path d="M502.08 764.00V766.50" stroke="#d8d8d8" stroke-width="1.04"/>
<text transform="translate(506.08,772.50) rotate(-44)" font-size="9.20" font-weight="bold" fill="#111" text-anchor="end" stroke="#111" stroke-width="0.25" stroke-linejoin="round">R48</text>
<path d="M528.24 764.00V766.50" stroke="#d8d8d8" stroke-width="1.04"/>
<text transform="translate(532.24,772.50) rotate(-44)" font-size="9.20" font-weight="bold" fill="#111" text-anchor="end" stroke="#111" stroke-width="0.25" stroke-linejoin="round">R72</text>
<path d="M554.40 764.00V766.50" stroke="#d8d8d8" stroke-width="1.04"/>
<text transform="translate(558.40,772.50) rotate(-44)" font-size="9.20" font-weight="bold" fill="#111" text-anchor="end" stroke="#111" stroke-width="0.25" stroke-linejoin="round">R144</text>
<text transform="translate(380.50,695.70) rotate(-90)" font-size="9.20" font-weight="bold" fill="#111" text-anchor="middle" stroke="#111" stroke-width="0.25" stroke-linejoin="round">Intensity</text>
<path d="M423.60 665.20V706.80M422.00 665.20H425.20M422.00 706.80H425.20" stroke="#bbbbbb" stroke-width="0.8" fill="none"/>
<path d="M502.08 711.35V730.85M500.48 711.35H503.68M500.48 730.85H503.68" stroke="#bbbbbb" stroke-width="0.8" fill="none"/>
<path d="M528.24 715.25V733.45M526.64 715.25H529.84M526.64 733.45H529.84" stroke="#bbbbbb" stroke-width="0.8" fill="none"/>
<path d="M554.40 708.49V716.29M552.80 708.49H556.00M552.80 716.29H556.00" stroke="#bbbbbb" stroke-width="0.8" fill="none"/>
<polyline points="423.60,686.00 449.76,752.30 475.92,744.50 502.08,721.10 528.24,724.35 554.40,712.39" fill="none" stroke="#0000ff" stroke-width="1.6" stroke-linejoin="round"/>
<circle cx="423.60" cy="686.00" r="2.40" fill="#0000ff"/>
<circle cx="449.76" cy="752.30" r="2.40" fill="#0000ff"/>
<circle cx="475.92" cy="744.50" r="2.40" fill="#0000ff"/>
<circle cx="502.08" cy="721.10" r="2.40" fill="#0000ff"/>
<circle cx="528.24" cy="724.35" r="2.40" fill="#0000ff"/>
<circle cx="554.40" cy="712.39" r="2.40" fill="#0000ff"/>
<path d="M584.80 641.00H593.60" stroke="#0000ff" stroke-width="1.5"/>
<circle cx="589.20" cy="641.00" r="2.40" fill="#0000ff"/>
<text transform="translate(599.00,642.86) scale(0.935,1.000)" font-size="9.60" font-weight="bold" fill="#111" stroke="#111" stroke-width="0.25" stroke-linejoin="round"><tspan>C</tspan><tspan font-size="6.53" dy="3.65">26</tspan><tspan dy="-3.65">H</tspan><tspan font-size="6.53" dy="3.65">52</tspan><tspan dy="-3.65">O</tspan><tspan font-size="6.53" dy="3.65">2</tspan><tspan dy="-3.65">(0,1)</tspan></text>
<text transform="translate(221.30,840.70)" font-size="14.60" font-weight="bold" fill="#000">i</text>
<path d="M259.60 817.90V928.50H427.70" fill="none" stroke="#d8d8d8" stroke-width="1.3"/>
<path d="M257.10 928.50H259.60" stroke="#d8d8d8" stroke-width="1.04"/>
<text transform="translate(257.50,931.70) scale(1.000,1.300)" font-size="7.70" font-weight="bold" fill="#1a1a1a" text-anchor="end" stroke="#1a1a1a" stroke-width="0.25" stroke-linejoin="round">0</text>
<path d="M257.10 906.48H259.60" stroke="#d8d8d8" stroke-width="1.04"/>
<text transform="translate(257.50,909.68) scale(1.000,1.300)" font-size="7.70" font-weight="bold" fill="#1a1a1a" text-anchor="end" stroke="#1a1a1a" stroke-width="0.25" stroke-linejoin="round">5000</text>
<path d="M257.10 884.46H259.60" stroke="#d8d8d8" stroke-width="1.04"/>
<text transform="translate(257.50,887.66) scale(1.000,1.300)" font-size="7.70" font-weight="bold" fill="#1a1a1a" text-anchor="end" stroke="#1a1a1a" stroke-width="0.25" stroke-linejoin="round">10000</text>
<path d="M257.10 862.44H259.60" stroke="#d8d8d8" stroke-width="1.04"/>
<text transform="translate(257.50,865.64) scale(1.000,1.300)" font-size="7.70" font-weight="bold" fill="#1a1a1a" text-anchor="end" stroke="#1a1a1a" stroke-width="0.25" stroke-linejoin="round">15000</text>
<path d="M257.10 840.42H259.60" stroke="#d8d8d8" stroke-width="1.04"/>
<text transform="translate(257.50,843.62) scale(1.000,1.300)" font-size="7.70" font-weight="bold" fill="#1a1a1a" text-anchor="end" stroke="#1a1a1a" stroke-width="0.25" stroke-linejoin="round">20000</text>
<path d="M257.10 818.40H259.60" stroke="#d8d8d8" stroke-width="1.04"/>
<text transform="translate(257.50,821.60) scale(1.000,1.300)" font-size="7.70" font-weight="bold" fill="#1a1a1a" text-anchor="end" stroke="#1a1a1a" stroke-width="0.25" stroke-linejoin="round">25000</text>
<path d="M273.90 928.50V931.00" stroke="#d8d8d8" stroke-width="1.04"/>
<text transform="translate(277.40,936.00) rotate(-42)" font-size="8.00" font-weight="bold" fill="#111" text-anchor="end" stroke="#111" stroke-width="0.25" stroke-linejoin="round">Normoxia</text>
<path d="M301.98 928.50V931.00" stroke="#d8d8d8" stroke-width="1.04"/>
<text transform="translate(305.48,936.00) rotate(-42)" font-size="8.00" font-weight="bold" fill="#111" text-anchor="end" stroke="#111" stroke-width="0.25" stroke-linejoin="round">Dormancy</text>
<path d="M330.06 928.50V931.00" stroke="#d8d8d8" stroke-width="1.04"/>
<text transform="translate(333.56,936.00) rotate(-42)" font-size="8.00" font-weight="bold" fill="#111" text-anchor="end" stroke="#111" stroke-width="0.25" stroke-linejoin="round">R24</text>
<path d="M358.14 928.50V931.00" stroke="#d8d8d8" stroke-width="1.04"/>
<text transform="translate(361.64,936.00) rotate(-42)" font-size="8.00" font-weight="bold" fill="#111" text-anchor="end" stroke="#111" stroke-width="0.25" stroke-linejoin="round">R48</text>
<path d="M386.22 928.50V931.00" stroke="#d8d8d8" stroke-width="1.04"/>
<text transform="translate(389.72,936.00) rotate(-42)" font-size="8.00" font-weight="bold" fill="#111" text-anchor="end" stroke="#111" stroke-width="0.25" stroke-linejoin="round">R72</text>
<path d="M414.30 928.50V931.00" stroke="#d8d8d8" stroke-width="1.04"/>
<text transform="translate(417.80,936.00) rotate(-42)" font-size="8.00" font-weight="bold" fill="#111" text-anchor="end" stroke="#111" stroke-width="0.25" stroke-linejoin="round">R144</text>
<text transform="translate(231.20,867.30) rotate(-90)" font-size="8.40" font-weight="bold" fill="#111" text-anchor="middle" stroke="#111" stroke-width="0.25" stroke-linejoin="round">Intensity</text>
<path d="M273.90 854.51V858.92M272.30 854.51H275.50M272.30 858.92H275.50" stroke="#bbbbbb" stroke-width="0.8" fill="none"/>
<path d="M330.06 906.70V915.51M328.46 906.70H331.66M328.46 915.51H331.66" stroke="#bbbbbb" stroke-width="0.8" fill="none"/>
<path d="M414.30 842.18V871.25M412.70 842.18H415.90M412.70 871.25H415.90" stroke="#bbbbbb" stroke-width="0.8" fill="none"/>
<path d="M273.90 840.86V854.95M272.30 840.86H275.50M272.30 854.95H275.50" stroke="#bbbbbb" stroke-width="0.8" fill="none"/>
<polyline points="273.90,856.71 301.98,921.89 330.06,911.10 358.14,887.76 386.22,882.04 414.30,856.71" fill="none" stroke="#ff0000" stroke-width="1.6" stroke-linejoin="round"/>
<polyline points="273.90,847.91 301.98,925.42 330.06,901.64 358.14,889.30 386.22,873.67 414.30,852.31" fill="none" stroke="#0000ff" stroke-width="1.6" stroke-linejoin="round"/>
<rect x="271.50" y="854.31" width="4.80" height="4.80" fill="#ff0000"/>
<rect x="299.58" y="919.49" width="4.80" height="4.80" fill="#ff0000"/>
<rect x="327.66" y="908.70" width="4.80" height="4.80" fill="#ff0000"/>
<rect x="355.74" y="885.36" width="4.80" height="4.80" fill="#ff0000"/>
<rect x="383.82" y="879.64" width="4.80" height="4.80" fill="#ff0000"/>
<rect x="411.90" y="854.31" width="4.80" height="4.80" fill="#ff0000"/>
<circle cx="273.90" cy="847.91" r="2.40" fill="#0000ff"/>
<circle cx="301.98" cy="925.42" r="2.40" fill="#0000ff"/>
<circle cx="330.06" cy="901.64" r="2.40" fill="#0000ff"/>
<circle cx="358.14" cy="889.30" r="2.40" fill="#0000ff"/>
<circle cx="386.22" cy="873.67" r="2.40" fill="#0000ff"/>
<circle cx="414.30" cy="852.31" r="2.40" fill="#0000ff"/>
<path d="M432.20 861.60H441.00" stroke="#ff0000" stroke-width="1.5"/>
<rect x="434.30" y="859.30" width="4.60" height="4.60" fill="#ff0000"/>
<text transform="translate(444.50,863.61) scale(0.954,1.000)" font-size="7.80" font-weight="bold" fill="#111" stroke="#111" stroke-width="0.25" stroke-linejoin="round"><tspan>C</tspan><tspan font-size="5.30" dy="2.96">44</tspan><tspan dy="-2.96">H</tspan><tspan font-size="5.30" dy="2.96">68</tspan><tspan dy="-2.96">O</tspan><tspan font-size="5.30" dy="2.96">9</tspan><tspan dy="-2.96">(7)</tspan></text>
<path d="M432.20 870.10H441.00" stroke="#0000ff" stroke-width="1.5"/>
<circle cx="436.60" cy="870.10" r="2.30" fill="#0000ff"/>
<text transform="translate(444.50,872.11) scale(0.954,1.000)" font-size="7.80" font-weight="bold" fill="#111" stroke="#111" stroke-width="0.25" stroke-linejoin="round"><tspan>C</tspan><tspan font-size="5.30" dy="2.96">44</tspan><tspan dy="-2.96">H</tspan><tspan font-size="5.30" dy="2.96">66</tspan><tspan dy="-2.96">O</tspan><tspan font-size="5.30" dy="2.96">8</tspan><tspan dy="-2.96">(7)</tspan></text>
</svg>
</body></html>
